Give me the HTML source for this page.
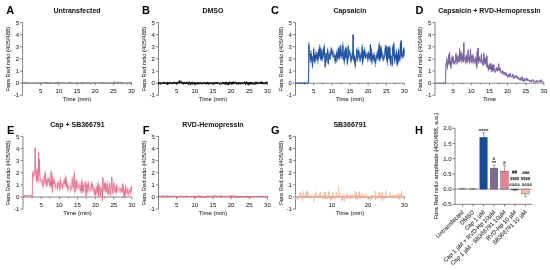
<!DOCTYPE html>
<html><head><meta charset="utf-8"><style>
html,body{margin:0;padding:0;background:#fff;}
svg{display:block;will-change:transform;}
text{font-family:"Liberation Sans",sans-serif;}
.let{font-size:11px;font-weight:bold;fill:#000;}
.tit{font-size:7px;font-weight:bold;fill:#111;text-anchor:middle;}
.yt{font-size:6.0px;fill:#3a3a3a;text-anchor:end;stroke:#3a3a3a;stroke-width:0.1px;}
.xt{font-size:6.0px;fill:#3a3a3a;text-anchor:middle;stroke:#3a3a3a;stroke-width:0.1px;}
.yl{font-size:5.9px;fill:#3a3a3a;text-anchor:middle;stroke:#3a3a3a;stroke-width:0.1px;}
.hl{font-size:5.9px;fill:#3a3a3a;text-anchor:end;stroke:#3a3a3a;stroke-width:0.1px;}
.ax{stroke:#666;stroke-width:0.8;fill:none;}
</style></head><body>
<svg width="550" height="270" viewBox="0 0 550 270">
<rect width="550" height="270" fill="#fff"/>
<text x="6.3" y="13.9" class="let">A</text>
<text x="77.05" y="13" class="tit">Untransfected</text>
<line x1="22.6" y1="22.6" x2="22.6" y2="95.32" class="ax"/>
<line x1="20" y1="95.32" x2="22.6" y2="95.32" class="ax"/>
<text x="19" y="97.47" class="yt">-1</text>
<line x1="20" y1="83.2" x2="22.6" y2="83.2" class="ax"/>
<text x="19" y="85.35" class="yt">0</text>
<line x1="20" y1="71.08" x2="22.6" y2="71.08" class="ax"/>
<text x="19" y="73.23" class="yt">1</text>
<line x1="20" y1="58.96" x2="22.6" y2="58.96" class="ax"/>
<text x="19" y="61.11" class="yt">2</text>
<line x1="20" y1="46.84" x2="22.6" y2="46.84" class="ax"/>
<text x="19" y="48.99" class="yt">3</text>
<line x1="20" y1="34.72" x2="22.6" y2="34.72" class="ax"/>
<text x="19" y="36.87" class="yt">4</text>
<line x1="20" y1="22.6" x2="22.6" y2="22.6" class="ax"/>
<text x="19" y="24.75" class="yt">5</text>
<line x1="22.6" y1="83.2" x2="131.5" y2="83.2" class="ax"/>
<line x1="40.75" y1="83.2" x2="40.75" y2="85.4" class="ax"/>
<text x="40.75" y="92.8" class="xt">5</text>
<line x1="58.9" y1="83.2" x2="58.9" y2="85.4" class="ax"/>
<text x="58.9" y="92.8" class="xt">10</text>
<line x1="77.05" y1="83.2" x2="77.05" y2="85.4" class="ax"/>
<text x="77.05" y="92.8" class="xt">15</text>
<line x1="95.2" y1="83.2" x2="95.2" y2="85.4" class="ax"/>
<text x="95.2" y="92.8" class="xt">20</text>
<line x1="113.35" y1="83.2" x2="113.35" y2="85.4" class="ax"/>
<text x="113.35" y="92.8" class="xt">25</text>
<line x1="131.5" y1="83.2" x2="131.5" y2="85.4" class="ax"/>
<text x="131.5" y="92.8" class="xt">30</text>
<text x="77.05" y="101.2" class="xt">Time (min)</text>
<text transform="translate(10,58.96) rotate(-90)" class="yl">Fura Red ratio (405/488)</text>
<polyline points="22.60,82.94 22.90,82.30 23.21,82.36 23.51,83.20 23.81,83.10 24.12,83.21 24.42,82.68 24.72,82.98 25.03,82.60 25.33,83.85 25.63,82.20 25.94,83.00 26.24,82.63 26.54,83.02 26.85,83.14 27.15,82.73 27.45,82.56 27.76,83.06 28.06,83.03 28.36,82.63 28.67,83.38 28.97,83.69 29.27,82.77 29.58,83.28 29.88,83.89 30.18,83.35 30.49,83.18 30.79,83.54 31.09,83.68 31.40,82.94 31.70,82.52 32.00,83.07 32.31,83.32 32.61,82.77 32.91,82.61 33.22,83.10 33.52,82.69 33.82,82.45 34.13,83.06 34.43,83.35 34.73,82.79 35.04,82.84 35.34,82.42 35.64,83.58 35.95,83.28 36.25,83.36 36.55,83.80 36.86,82.90 37.16,82.70 37.46,83.32 37.77,82.29 38.07,82.56 38.37,82.65 38.68,82.76 38.98,82.49 39.28,83.60 39.59,82.66 39.89,82.67 40.19,83.81 40.50,82.79 40.80,83.08 41.10,82.58 41.41,83.17 41.71,82.97 42.01,82.79 42.32,83.38 42.62,82.67 42.92,83.01 43.23,82.72 43.53,83.21 43.83,82.43 44.14,82.66 44.44,83.04 44.74,82.65 45.05,82.35 45.35,82.09 45.65,83.72 45.96,82.53 46.26,82.73 46.56,83.00 46.87,83.45 47.17,82.35 47.47,83.57 47.78,82.68 48.08,82.33 48.38,83.73 48.69,83.10 48.99,83.59 49.29,82.84 49.60,82.22 49.90,81.98 50.20,83.82 50.51,83.24 50.81,82.62 51.11,82.19 51.42,82.75 51.72,83.32 52.02,82.81 52.33,82.97 52.63,83.06 52.93,83.31 53.24,82.77 53.54,82.81 53.84,83.00 54.15,83.07 54.45,83.58 54.75,83.19 55.06,82.37 55.36,83.05 55.66,83.66 55.97,82.31 56.27,82.70 56.57,81.94 56.88,82.93 57.18,83.18 57.48,83.66 57.79,82.32 58.09,81.71 58.39,83.36 58.70,83.27 59.00,82.67 59.30,83.36 59.61,83.09 59.91,83.13 60.21,82.86 60.52,82.43 60.82,82.95 61.12,82.51 61.43,83.16 61.73,82.80 62.03,83.99 62.34,83.66 62.64,82.57 62.94,83.24 63.25,82.68 63.55,82.69 63.85,82.32 64.16,82.56 64.46,82.46 64.76,83.01 65.07,83.30 65.37,83.31 65.67,83.19 65.98,83.51 66.28,83.22 66.58,83.00 66.89,82.84 67.19,83.12 67.49,83.89 67.80,82.99 68.10,82.85 68.40,82.43 68.71,82.68 69.01,83.27 69.31,83.31 69.62,81.98 69.92,82.59 70.22,82.07 70.53,81.93 70.83,83.35 71.13,82.77 71.44,82.74 71.74,82.69 72.04,82.69 72.35,82.86 72.65,82.87 72.95,83.69 73.26,83.04 73.56,83.32 73.86,82.90 74.17,83.18 74.47,82.66 74.77,82.56 75.08,82.81 75.38,82.80 75.68,82.91 75.99,83.17 76.29,83.04 76.59,83.20 76.90,82.77 77.20,82.95 77.51,82.68 77.81,83.60 78.11,82.53 78.42,83.33 78.72,83.31 79.02,83.05 79.33,83.23 79.63,82.82 79.93,83.24 80.24,83.48 80.54,83.37 80.84,82.32 81.15,82.94 81.45,83.52 81.75,82.95 82.06,83.71 82.36,82.09 82.66,83.70 82.97,82.73 83.27,82.69 83.57,83.66 83.88,82.81 84.18,82.47 84.48,82.73 84.79,82.83 85.09,82.50 85.39,82.88 85.70,82.79 86.00,83.02 86.30,82.65 86.61,83.41 86.91,82.57 87.21,83.20 87.52,83.49 87.82,82.78 88.12,82.14 88.43,82.49 88.73,83.21 89.03,82.62 89.34,83.18 89.64,83.02 89.94,82.91 90.25,84.08 90.55,82.86 90.85,83.46 91.16,83.30 91.46,83.67 91.76,83.69 92.07,83.41 92.37,82.56 92.67,82.15 92.98,82.97 93.28,82.43 93.58,83.09 93.89,83.88 94.19,82.88 94.49,82.74 94.80,83.17 95.10,82.81 95.40,82.68 95.71,83.38 96.01,83.67 96.31,83.06 96.62,83.06 96.92,83.13 97.22,82.48 97.53,82.12 97.83,83.16 98.13,82.62 98.44,82.50 98.74,82.61 99.04,82.45 99.35,83.15 99.65,82.60 99.95,81.98 100.26,82.57 100.56,83.26 100.86,82.66 101.17,82.35 101.47,82.78 101.77,83.23 102.08,82.21 102.38,83.56 102.68,82.71 102.99,82.97 103.29,83.54 103.59,82.37 103.90,82.79 104.20,83.52 104.50,82.67 104.81,83.17 105.11,83.88 105.41,83.29 105.72,82.83 106.02,82.65 106.32,82.88 106.63,82.94 106.93,82.73 107.23,83.06 107.54,82.39 107.84,82.89 108.14,82.82 108.45,82.70 108.75,83.47 109.05,83.30 109.36,82.22 109.66,82.80 109.96,83.09 110.27,82.79 110.57,83.19 110.87,82.82 111.18,83.28 111.48,82.82 111.78,83.72 112.09,82.31 112.39,83.21 112.69,83.72 113.00,83.07 113.30,83.14 113.60,82.88 113.91,83.51 114.21,82.76 114.51,81.20 114.82,83.58 115.12,82.79 115.42,83.11 115.73,82.86 116.03,83.84 116.33,83.52 116.64,82.73 116.94,82.98 117.24,82.16 117.55,83.30 117.85,82.87 118.15,81.55 118.46,83.33 118.76,83.40 119.06,82.97 119.37,82.98 119.67,82.55 119.97,82.89 120.28,83.32 120.58,82.86 120.88,81.68 121.19,82.34 121.49,84.31 121.79,83.03 122.10,83.38 122.40,82.66 122.70,83.04 123.01,82.02 123.31,82.51 123.61,82.53 123.92,82.87 124.22,82.98 124.52,82.79 124.83,82.33 125.13,82.70 125.43,83.13 125.74,82.34 126.04,82.86 126.34,83.00 126.65,83.34 126.95,83.23 127.25,83.27 127.56,84.31 127.86,82.46 128.16,82.68 128.47,83.06 128.77,82.45 129.07,82.75 129.38,82.78 129.68,84.16 129.98,83.07 130.29,82.70 130.59,82.18 130.89,82.07 131.20,82.27 131.50,83.52" fill="none" stroke="#7a7a7a" stroke-width="0.8" stroke-opacity="1" stroke-linejoin="round"/>
<text x="141.9" y="13.9" class="let">B</text>
<text x="212.95" y="13" class="tit">DMSO</text>
<line x1="158.5" y1="22.6" x2="158.5" y2="95.32" class="ax"/>
<line x1="155.9" y1="95.32" x2="158.5" y2="95.32" class="ax"/>
<text x="154.9" y="97.47" class="yt">-1</text>
<line x1="155.9" y1="83.2" x2="158.5" y2="83.2" class="ax"/>
<text x="154.9" y="85.35" class="yt">0</text>
<line x1="155.9" y1="71.08" x2="158.5" y2="71.08" class="ax"/>
<text x="154.9" y="73.23" class="yt">1</text>
<line x1="155.9" y1="58.96" x2="158.5" y2="58.96" class="ax"/>
<text x="154.9" y="61.11" class="yt">2</text>
<line x1="155.9" y1="46.84" x2="158.5" y2="46.84" class="ax"/>
<text x="154.9" y="48.99" class="yt">3</text>
<line x1="155.9" y1="34.72" x2="158.5" y2="34.72" class="ax"/>
<text x="154.9" y="36.87" class="yt">4</text>
<line x1="155.9" y1="22.6" x2="158.5" y2="22.6" class="ax"/>
<text x="154.9" y="24.75" class="yt">5</text>
<line x1="158.5" y1="83.2" x2="267.4" y2="83.2" class="ax"/>
<line x1="176.65" y1="83.2" x2="176.65" y2="85.4" class="ax"/>
<text x="176.65" y="92.8" class="xt">5</text>
<line x1="194.8" y1="83.2" x2="194.8" y2="85.4" class="ax"/>
<text x="194.8" y="92.8" class="xt">10</text>
<line x1="212.95" y1="83.2" x2="212.95" y2="85.4" class="ax"/>
<text x="212.95" y="92.8" class="xt">15</text>
<line x1="231.1" y1="83.2" x2="231.1" y2="85.4" class="ax"/>
<text x="231.1" y="92.8" class="xt">20</text>
<line x1="249.25" y1="83.2" x2="249.25" y2="85.4" class="ax"/>
<text x="249.25" y="92.8" class="xt">25</text>
<line x1="267.4" y1="83.2" x2="267.4" y2="85.4" class="ax"/>
<text x="267.4" y="92.8" class="xt">30</text>
<text x="212.95" y="101.2" class="xt">Time (min)</text>
<text transform="translate(145.9,58.96) rotate(-90)" class="yl">Fura Red ratio (405/488)</text>
<polyline points="158.50,84.53 158.80,82.85 159.11,83.18 159.41,82.62 159.71,83.28 160.02,83.07 160.32,84.11 160.62,82.93 160.93,83.47 161.23,82.99 161.53,82.92 161.84,83.27 162.14,83.01 162.44,83.21 162.75,82.74 163.05,82.90 163.35,83.53 163.66,83.56 163.96,82.14 164.26,83.26 164.57,82.60 164.87,82.96 165.17,83.54 165.48,83.65 165.78,83.13 166.08,83.04 166.39,82.83 166.69,83.97 166.99,83.56 167.30,83.26 167.60,82.23 167.90,84.63 168.21,82.93 168.51,83.53 168.81,82.94 169.12,83.50 169.42,82.98 169.72,82.25 170.03,82.99 170.33,82.94 170.63,82.97 170.94,83.65 171.24,82.87 171.54,83.33 171.85,83.69 172.15,83.22 172.45,83.33 172.76,82.74 173.06,83.22 173.36,83.51 173.67,82.30 173.97,82.57 174.27,82.39 174.58,82.77 174.88,83.18 175.18,83.33 175.49,83.20 175.79,82.40 176.09,82.84 176.40,83.73 176.70,82.76 177.00,83.50 177.31,82.43 177.61,83.16 177.91,83.08 178.22,82.15 178.52,82.18 178.82,83.07 179.13,81.56 179.43,80.68 179.73,82.89 180.04,80.92 180.34,82.49 180.64,82.45 180.95,82.35 181.25,83.21 181.55,81.66 181.86,82.26 182.16,83.11 182.46,82.92 182.77,83.76 183.07,83.13 183.37,82.42 183.68,84.08 183.98,83.35 184.28,83.03 184.59,82.50 184.89,82.34 185.19,83.45 185.50,83.63 185.80,82.92 186.10,83.41 186.41,83.38 186.71,82.54 187.01,82.17 187.32,83.04 187.62,83.32 187.92,82.85 188.23,84.34 188.53,83.21 188.83,83.84 189.14,81.75 189.44,82.76 189.74,83.11 190.05,83.32 190.35,84.72 190.65,82.77 190.96,82.21 191.26,83.64 191.56,82.79 191.87,82.76 192.17,84.14 192.47,82.63 192.78,82.38 193.08,83.06 193.38,83.24 193.69,82.72 193.99,84.13 194.29,83.14 194.60,82.56 194.90,83.95 195.20,82.60 195.51,83.45 195.81,84.46 196.11,83.26 196.42,83.79 196.72,83.01 197.02,83.91 197.33,82.56 197.63,83.65 197.93,82.98 198.24,83.56 198.54,83.40 198.84,82.48 199.15,83.07 199.45,83.44 199.75,83.96 200.06,82.50 200.36,82.76 200.66,83.40 200.97,83.05 201.27,83.82 201.57,83.81 201.88,83.70 202.18,82.99 202.48,83.02 202.79,83.65 203.09,82.75 203.39,82.72 203.70,83.10 204.00,82.57 204.30,83.37 204.61,83.27 204.91,82.91 205.21,83.22 205.52,82.72 205.82,83.96 206.12,82.34 206.43,83.67 206.73,83.30 207.03,84.03 207.34,82.84 207.64,82.43 207.94,82.55 208.25,82.69 208.55,84.14 208.85,83.67 209.16,83.48 209.46,83.77 209.76,82.52 210.07,83.09 210.37,83.21 210.67,82.90 210.98,83.78 211.28,83.75 211.58,83.73 211.89,82.90 212.19,82.99 212.49,82.85 212.80,82.55 213.10,84.02 213.41,83.54 213.71,83.11 214.01,84.02 214.32,83.52 214.62,82.59 214.92,82.53 215.23,82.55 215.53,83.17 215.83,83.33 216.14,82.55 216.44,83.43 216.74,83.00 217.05,82.40 217.35,83.42 217.65,83.57 217.96,83.21 218.26,82.84 218.56,82.91 218.87,83.11 219.17,82.86 219.47,84.17 219.78,83.72 220.08,83.10 220.38,83.76 220.69,84.01 220.99,83.93 221.29,83.76 221.60,83.31 221.90,83.82 222.20,83.06 222.51,82.17 222.81,83.29 223.11,82.43 223.42,83.03 223.72,83.88 224.02,83.36 224.33,83.79 224.63,82.73 224.93,83.90 225.24,82.40 225.54,82.85 225.84,84.43 226.15,82.72 226.45,82.26 226.75,83.68 227.06,82.60 227.36,84.29 227.66,83.05 227.97,84.21 228.27,82.91 228.57,84.28 228.88,84.80 229.18,82.96 229.48,81.81 229.79,83.56 230.09,82.70 230.39,83.13 230.70,83.40 231.00,82.83 231.30,82.20 231.61,83.95 231.91,82.86 232.21,82.99 232.52,84.06 232.82,82.22 233.12,82.02 233.43,83.78 233.73,82.15 234.03,83.17 234.34,83.30 234.64,82.29 234.94,83.06 235.25,83.00 235.55,82.28 235.85,82.42 236.16,82.66 236.46,84.05 236.76,84.15 237.07,82.52 237.37,83.76 237.67,83.11 237.98,83.85 238.28,83.31 238.58,83.97 238.89,82.21 239.19,83.82 239.49,83.27 239.80,83.31 240.10,82.47 240.40,84.06 240.71,83.22 241.01,83.33 241.31,82.88 241.62,82.91 241.92,83.48 242.22,83.05 242.53,83.43 242.83,82.92 243.13,83.26 243.44,83.60 243.74,83.22 244.04,82.98 244.35,81.83 244.65,83.50 244.95,83.01 245.26,82.31 245.56,84.46 245.86,84.26 246.17,83.92 246.47,83.27 246.77,81.72 247.08,82.96 247.38,82.47 247.68,83.33 247.99,84.69 248.29,84.60 248.59,82.58 248.90,83.09 249.20,83.99 249.50,82.52 249.81,84.13 250.11,82.51 250.41,82.32 250.72,83.66 251.02,83.87 251.32,82.69 251.63,83.86 251.93,82.68 252.23,83.92 252.54,82.71 252.84,83.14 253.14,83.46 253.45,83.74 253.75,83.06 254.05,84.35 254.36,83.37 254.66,83.44 254.96,82.79 255.27,83.96 255.57,82.16 255.87,83.39 256.18,83.89 256.48,82.36 256.78,82.19 257.09,83.31 257.39,83.74 257.69,83.19 258.00,83.62 258.30,83.39 258.60,82.26 258.91,82.96 259.21,83.11 259.51,82.99 259.82,83.24 260.12,82.69 260.42,82.67 260.73,83.42 261.03,83.14 261.33,81.74 261.64,82.94 261.94,83.31 262.24,81.96 262.55,83.19 262.85,83.86 263.15,82.79 263.46,83.75 263.76,83.50 264.06,83.00 264.37,83.28 264.67,83.66 264.97,83.53 265.28,83.56 265.58,82.49 265.88,83.64 266.19,83.55 266.49,81.96 266.79,83.54 267.10,82.30 267.40,82.40" fill="none" stroke="#111" stroke-width="1.1" stroke-opacity="1" stroke-linejoin="round"/>
<text x="271" y="13.9" class="let">C</text>
<text x="349.95" y="13" class="tit">Capsaicin</text>
<line x1="295.5" y1="22.6" x2="295.5" y2="95.32" class="ax"/>
<line x1="292.9" y1="95.32" x2="295.5" y2="95.32" class="ax"/>
<text x="291.9" y="97.47" class="yt">-1</text>
<line x1="292.9" y1="83.2" x2="295.5" y2="83.2" class="ax"/>
<text x="291.9" y="85.35" class="yt">0</text>
<line x1="292.9" y1="71.08" x2="295.5" y2="71.08" class="ax"/>
<text x="291.9" y="73.23" class="yt">1</text>
<line x1="292.9" y1="58.96" x2="295.5" y2="58.96" class="ax"/>
<text x="291.9" y="61.11" class="yt">2</text>
<line x1="292.9" y1="46.84" x2="295.5" y2="46.84" class="ax"/>
<text x="291.9" y="48.99" class="yt">3</text>
<line x1="292.9" y1="34.72" x2="295.5" y2="34.72" class="ax"/>
<text x="291.9" y="36.87" class="yt">4</text>
<line x1="292.9" y1="22.6" x2="295.5" y2="22.6" class="ax"/>
<text x="291.9" y="24.75" class="yt">5</text>
<line x1="295.5" y1="83.2" x2="404.4" y2="83.2" class="ax"/>
<line x1="304.57" y1="83.2" x2="304.57" y2="84.5" class="ax"/>
<line x1="322.73" y1="83.2" x2="322.73" y2="84.5" class="ax"/>
<line x1="340.88" y1="83.2" x2="340.88" y2="84.5" class="ax"/>
<line x1="359.02" y1="83.2" x2="359.02" y2="84.5" class="ax"/>
<line x1="377.18" y1="83.2" x2="377.18" y2="84.5" class="ax"/>
<line x1="395.32" y1="83.2" x2="395.32" y2="84.5" class="ax"/>
<line x1="313.65" y1="83.2" x2="313.65" y2="85.4" class="ax"/>
<text x="313.65" y="92.8" class="xt">5</text>
<line x1="331.8" y1="83.2" x2="331.8" y2="85.4" class="ax"/>
<text x="331.8" y="92.8" class="xt">10</text>
<line x1="349.95" y1="83.2" x2="349.95" y2="85.4" class="ax"/>
<text x="349.95" y="92.8" class="xt">15</text>
<line x1="368.1" y1="83.2" x2="368.1" y2="85.4" class="ax"/>
<text x="368.1" y="92.8" class="xt">20</text>
<line x1="386.25" y1="83.2" x2="386.25" y2="85.4" class="ax"/>
<text x="386.25" y="92.8" class="xt">25</text>
<line x1="404.4" y1="83.2" x2="404.4" y2="85.4" class="ax"/>
<text x="404.4" y="92.8" class="xt">30</text>
<text x="349.95" y="101.2" class="xt">Time (min)</text>
<text transform="translate(282.9,58.96) rotate(-90)" class="yl">Fura Red ratio (405/488)</text>
<polyline points="295.50,82.85 295.80,83.63 296.11,83.25 296.41,82.98 296.71,83.34 297.02,82.95 297.32,83.10 297.62,83.02 297.93,83.22 298.23,83.11 298.53,83.04 298.84,83.65 299.14,83.48 299.44,83.51 299.75,82.69 300.05,83.11 300.35,83.09 300.66,83.15 300.96,83.36 301.26,83.43 301.57,82.94 301.87,83.31 302.17,82.72 302.48,83.14 302.78,83.17 303.08,83.27 303.39,83.22 303.69,83.19 303.99,82.73 304.30,82.49 304.60,83.55 304.90,83.12 305.21,82.98 305.51,83.47 305.81,83.39 306.12,83.34 306.42,83.93 306.72,83.00 307.03,83.21 307.33,83.23 307.63,83.17 307.94,83.12 308.24,82.49 308.54,83.14 308.85,42.15 309.15,53.92 309.45,53.17 309.76,52.16 310.06,55.07 310.36,58.13 310.67,50.20 310.97,57.46 311.27,50.78 311.58,56.03 311.88,56.41 312.18,60.04 312.49,64.21 312.79,56.51 313.09,54.76 313.40,57.47 313.70,47.56 314.00,54.82 314.31,59.30 314.61,54.54 314.91,59.53 315.22,52.49 315.52,51.47 315.82,57.06 316.13,57.51 316.43,51.69 316.73,56.13 317.04,55.97 317.34,51.38 317.64,58.59 317.95,58.04 318.25,57.30 318.55,49.05 318.86,52.94 319.16,51.33 319.46,44.39 319.77,54.90 320.07,45.96 320.37,47.92 320.68,57.50 320.98,53.95 321.28,56.53 321.59,56.35 321.89,48.24 322.19,56.37 322.50,54.05 322.80,54.87 323.10,54.09 323.41,46.98 323.71,52.28 324.01,48.36 324.32,43.72 324.62,52.31 324.92,57.14 325.23,65.55 325.53,58.85 325.83,52.56 326.14,52.64 326.44,54.53 326.74,57.85 327.05,53.39 327.35,52.74 327.65,47.60 327.96,51.95 328.26,62.60 328.56,54.47 328.87,53.97 329.17,51.57 329.47,51.97 329.78,52.91 330.08,56.83 330.38,51.75 330.69,52.98 330.99,49.10 331.29,46.69 331.60,50.83 331.90,50.99 332.20,51.17 332.51,52.94 332.81,48.83 333.11,53.88 333.42,53.30 333.72,53.93 334.02,52.78 334.33,54.24 334.63,53.55 334.93,57.69 335.24,57.08 335.54,54.41 335.84,59.07 336.15,55.89 336.45,51.81 336.75,54.04 337.06,48.78 337.36,55.81 337.66,52.43 337.97,54.31 338.27,55.70 338.57,46.55 338.88,51.10 339.18,55.99 339.48,55.36 339.79,45.42 340.09,53.23 340.39,47.73 340.70,44.26 341.00,52.36 341.30,53.21 341.61,54.76 341.91,49.40 342.21,49.49 342.52,53.75 342.82,41.55 343.12,49.69 343.43,57.07 343.73,56.15 344.03,52.78 344.34,60.30 344.64,57.36 344.94,48.91 345.25,55.36 345.55,46.67 345.85,54.56 346.16,55.54 346.46,47.35 346.76,52.26 347.07,57.07 347.37,61.60 347.67,53.40 347.98,51.60 348.28,44.81 348.58,55.82 348.89,48.70 349.19,51.08 349.49,51.38 349.80,49.85 350.10,50.27 350.41,53.69 350.71,56.75 351.01,59.66 351.32,56.36 351.62,53.82 351.92,53.72 352.23,56.08 352.53,50.95 352.83,52.72 353.14,34.72 353.44,56.19 353.74,57.67 354.05,54.86 354.35,58.80 354.65,54.12 354.96,61.19 355.26,64.33 355.56,58.47 355.87,56.09 356.17,56.22 356.47,55.63 356.78,47.90 357.08,55.17 357.38,57.29 357.69,55.47 357.99,48.92 358.29,47.06 358.60,53.08 358.90,49.45 359.20,55.88 359.51,53.98 359.81,55.98 360.11,58.69 360.42,52.50 360.72,53.79 361.02,56.39 361.33,55.38 361.63,53.86 361.93,47.81 362.24,44.16 362.54,61.35 362.84,49.96 363.15,51.99 363.45,56.24 363.75,49.43 364.06,54.37 364.36,51.53 364.66,47.01 364.97,50.86 365.27,51.75 365.57,56.13 365.88,52.36 366.18,54.37 366.48,53.85 366.79,53.40 367.09,52.46 367.39,54.61 367.70,57.27 368.00,53.23 368.30,50.67 368.61,51.70 368.91,55.52 369.21,57.61 369.52,52.36 369.82,54.59 370.12,54.19 370.43,44.42 370.73,51.91 371.03,58.79 371.34,47.12 371.64,53.99 371.94,59.99 372.25,53.19 372.55,56.49 372.85,52.95 373.16,53.29 373.46,52.73 373.76,56.28 374.07,54.97 374.37,57.76 374.67,52.56 374.98,57.13 375.28,61.69 375.58,61.04 375.89,57.66 376.19,54.77 376.49,54.70 376.80,51.95 377.10,54.98 377.40,51.78 377.71,52.30 378.01,48.73 378.31,55.32 378.62,47.38 378.92,53.31 379.22,42.27 379.53,57.37 379.83,49.70 380.13,55.30 380.44,56.27 380.74,45.12 381.04,54.34 381.35,46.35 381.65,52.67 381.95,50.65 382.26,54.79 382.56,54.67 382.86,54.04 383.17,58.47 383.47,56.03 383.77,54.91 384.08,56.72 384.38,50.75 384.68,52.47 384.99,52.41 385.29,45.28 385.59,50.33 385.90,45.16 386.20,53.94 386.50,52.96 386.81,57.80 387.11,46.18 387.41,61.25 387.72,53.16 388.02,55.52 388.32,55.20 388.63,45.74 388.93,54.74 389.23,53.46 389.54,56.97 389.84,45.97 390.14,54.49 390.45,54.25 390.75,61.97 391.05,54.32 391.36,55.54 391.66,55.58 391.96,56.07 392.27,62.44 392.57,61.40 392.87,44.62 393.18,53.71 393.48,52.37 393.78,41.86 394.09,50.56 394.39,49.39 394.69,59.49 395.00,53.13 395.30,53.25 395.60,55.27 395.91,52.74 396.21,57.22 396.51,48.70 396.82,55.35 397.12,61.69 397.42,52.19 397.73,60.92 398.03,56.70 398.33,59.11 398.64,48.46 398.94,55.94 399.24,54.63 399.55,53.59 399.85,57.51 400.15,51.04 400.46,40.36 400.76,51.01 401.06,51.90 401.37,40.78 401.67,55.06 401.97,50.93 402.28,54.00 402.58,55.70 402.88,53.29 403.19,51.34 403.49,46.74 403.79,54.09 404.10,48.24 404.40,50.64" fill="none" stroke="#5f84c6" stroke-width="0.55" stroke-opacity="1" stroke-linejoin="round"/>
<polyline points="295.50,82.85 295.80,83.63 296.11,83.25 296.41,82.98 296.71,83.34 297.02,82.95 297.32,83.10 297.62,83.02 297.93,83.22 298.23,83.11 298.53,83.04 298.84,83.65 299.14,83.48 299.44,83.51 299.75,82.69 300.05,83.11 300.35,83.09 300.66,83.15 300.96,83.36 301.26,83.43 301.57,82.94 301.87,83.31 302.17,82.72 302.48,83.14 302.78,83.17 303.08,83.27 303.39,83.22 303.69,83.19 303.99,82.73 304.30,82.49 304.60,83.55 304.90,83.12 305.21,82.98 305.51,83.47 305.81,83.39 306.12,83.34 306.42,83.93 306.72,83.00 307.03,83.21 307.33,83.23 307.63,83.17 307.94,83.12 308.24,82.49 308.54,83.14 308.85,45.51 309.15,56.58 309.45,57.17 309.76,57.19 310.06,59.28 310.36,63.00 310.67,57.00 310.97,62.98 311.27,56.25 311.58,61.13 311.88,60.50 312.18,64.60 312.49,68.87 312.79,61.92 313.09,58.39 313.40,61.44 313.70,51.79 314.00,61.51 314.31,62.29 314.61,58.45 314.91,64.34 315.22,55.94 315.52,55.52 315.82,60.80 316.13,60.83 316.43,56.70 316.73,59.20 317.04,60.03 317.34,55.42 317.64,62.29 317.95,64.15 318.25,62.10 318.55,53.04 318.86,57.51 319.16,55.41 319.46,49.31 319.77,58.47 320.07,50.37 320.37,52.83 320.68,60.77 320.98,58.71 321.28,60.41 321.59,61.26 321.89,52.36 322.19,61.09 322.50,59.35 322.80,59.26 323.10,57.54 323.41,51.71 323.71,57.98 324.01,55.03 324.32,48.34 324.62,57.59 324.92,60.21 325.23,67.80 325.53,61.83 325.83,57.37 326.14,56.03 326.44,58.92 326.74,62.70 327.05,56.45 327.35,56.37 327.65,52.28 327.96,57.06 328.26,65.21 328.56,59.61 328.87,58.31 329.17,55.04 329.47,56.04 329.78,57.89 330.08,60.50 330.38,55.89 330.69,57.15 330.99,53.99 331.29,50.18 331.60,55.17 331.90,54.48 332.20,56.43 332.51,57.01 332.81,53.51 333.11,58.29 333.42,58.34 333.72,58.43 334.02,57.18 334.33,59.75 334.63,60.90 334.93,63.67 335.24,59.93 335.54,57.94 335.84,63.75 336.15,60.28 336.45,56.12 336.75,59.47 337.06,55.15 337.36,61.90 337.66,56.07 337.97,58.42 338.27,59.60 338.57,50.20 338.88,56.63 339.18,59.79 339.48,60.16 339.79,51.30 340.09,58.45 340.39,53.05 340.70,48.82 341.00,56.37 341.30,59.12 341.61,58.79 341.91,53.90 342.21,53.01 342.52,59.28 342.82,46.67 343.12,53.91 343.43,61.36 343.73,61.13 344.03,57.81 344.34,64.85 344.64,60.10 344.94,53.05 345.25,59.16 345.55,50.05 345.85,58.61 346.16,59.47 346.46,51.68 346.76,55.93 347.07,60.35 347.37,65.52 347.67,57.53 347.98,55.93 348.28,47.10 348.58,60.51 348.89,52.28 349.19,55.05 349.49,55.43 349.80,54.09 350.10,54.16 350.41,57.63 350.71,62.24 351.01,63.33 351.32,60.81 351.62,58.30 351.92,57.65 352.23,60.18 352.53,55.80 352.83,57.49 353.14,34.72 353.44,60.61 353.74,62.13 354.05,59.95 354.35,62.36 354.65,58.23 354.96,64.75 355.26,68.88 355.56,62.07 355.87,60.57 356.17,61.77 356.47,60.05 356.78,52.41 357.08,59.18 357.38,61.80 357.69,61.13 357.99,53.83 358.29,51.03 358.60,57.19 358.90,53.94 359.20,59.41 359.51,59.22 359.81,59.72 360.11,62.49 360.42,57.49 360.72,57.37 361.02,60.23 361.33,59.52 361.63,58.60 361.93,52.66 362.24,49.81 362.54,65.42 362.84,54.31 363.15,57.53 363.45,61.92 363.75,54.43 364.06,58.54 364.36,55.32 364.66,51.40 364.97,56.13 365.27,57.37 365.57,59.27 365.88,56.73 366.18,57.28 366.48,57.98 366.79,56.72 367.09,56.50 367.39,58.87 367.70,62.42 368.00,58.21 368.30,54.93 368.61,57.43 368.91,61.10 369.21,60.16 369.52,55.63 369.82,58.62 370.12,58.50 370.43,44.42 370.73,55.68 371.03,62.87 371.34,51.51 371.64,59.56 371.94,64.48 372.25,59.35 372.55,59.96 372.85,56.61 373.16,58.99 373.46,57.93 373.76,60.89 374.07,60.28 374.37,62.65 374.67,58.41 374.98,60.74 375.28,66.26 375.58,66.85 375.89,61.62 376.19,59.78 376.49,59.05 376.80,57.59 377.10,60.12 377.40,55.25 377.71,56.84 378.01,52.86 378.31,61.02 378.62,51.79 378.92,57.27 379.22,45.88 379.53,61.83 379.83,53.75 380.13,59.88 380.44,60.95 380.74,48.77 381.04,58.00 381.35,50.83 381.65,57.33 381.95,54.11 382.26,59.68 382.56,60.09 382.86,60.02 383.17,61.59 383.47,59.51 383.77,58.93 384.08,60.46 384.38,55.63 384.68,56.96 384.99,55.59 385.29,50.57 385.59,54.71 385.90,48.87 386.20,58.18 386.50,56.92 386.81,61.60 387.11,49.94 387.41,65.92 387.72,57.09 388.02,59.06 388.32,58.45 388.63,49.70 388.93,58.34 389.23,58.93 389.54,61.44 389.84,48.88 390.14,58.95 390.45,58.70 390.75,66.04 391.05,58.20 391.36,59.63 391.66,60.71 391.96,60.76 392.27,66.89 392.57,65.82 392.87,48.73 393.18,58.16 393.48,56.08 393.78,45.87 394.09,53.06 394.39,53.31 394.69,63.84 395.00,57.46 395.30,58.39 395.60,59.40 395.91,58.55 396.21,61.06 396.51,54.36 396.82,60.85 397.12,66.67 397.42,56.91 397.73,65.70 398.03,60.81 398.33,63.13 398.64,52.12 398.94,61.65 399.24,59.67 399.55,57.80 399.85,61.76 400.15,54.45 400.46,43.62 400.76,56.44 401.06,57.00 401.37,40.78 401.67,58.12 401.97,56.41 402.28,59.27 402.58,59.42 402.88,58.32 403.19,55.56 403.49,51.56 403.79,57.59 404.10,53.74 404.40,54.21" fill="none" stroke="#5f84c6" stroke-width="0.55" stroke-opacity="1" stroke-linejoin="round"/>
<polyline points="295.50,82.85 295.80,83.63 296.11,83.25 296.41,82.98 296.71,83.34 297.02,82.95 297.32,83.10 297.62,83.02 297.93,83.22 298.23,83.11 298.53,83.04 298.84,83.65 299.14,83.48 299.44,83.51 299.75,82.69 300.05,83.11 300.35,83.09 300.66,83.15 300.96,83.36 301.26,83.43 301.57,82.94 301.87,83.31 302.17,82.72 302.48,83.14 302.78,83.17 303.08,83.27 303.39,83.22 303.69,83.19 303.99,82.73 304.30,82.49 304.60,83.55 304.90,83.12 305.21,82.98 305.51,83.47 305.81,83.39 306.12,83.34 306.42,83.93 306.72,83.00 307.03,83.21 307.33,83.23 307.63,83.17 307.94,83.12 308.24,82.49 308.54,83.14 308.85,44.42 309.15,55.13 309.45,55.06 309.76,55.13 310.06,56.66 310.36,59.71 310.67,53.74 310.97,60.43 311.27,53.97 311.58,58.24 311.88,58.80 312.18,62.73 312.49,66.79 312.79,58.68 313.09,56.08 313.40,59.24 313.70,48.85 314.00,58.01 314.31,61.27 314.61,56.65 314.91,61.92 315.22,54.72 315.52,54.01 315.82,58.89 316.13,58.78 316.43,54.99 316.73,57.90 317.04,57.89 317.34,53.10 317.64,60.46 317.95,60.26 318.25,59.97 318.55,50.61 318.86,55.32 319.16,53.12 319.46,47.33 319.77,56.35 320.07,48.23 320.37,50.57 320.68,58.87 320.98,56.22 321.28,58.82 321.59,58.06 321.89,50.31 322.19,59.18 322.50,56.40 322.80,56.81 323.10,56.16 323.41,49.45 323.71,55.26 324.01,51.04 324.32,46.36 324.62,55.47 324.92,58.39 325.23,66.86 325.53,59.65 325.83,55.27 326.14,53.43 326.44,56.70 326.74,60.50 327.05,54.73 327.35,54.53 327.65,49.63 327.96,54.59 328.26,63.86 328.56,56.85 328.87,56.59 329.17,53.84 329.47,54.26 329.78,55.86 330.08,59.15 330.38,53.92 330.69,54.96 330.99,51.68 331.29,48.70 331.60,53.41 331.90,53.23 332.20,54.04 332.51,54.64 332.81,51.06 333.11,56.28 333.42,55.74 333.72,56.81 334.02,55.21 334.33,56.97 334.63,56.93 334.93,60.39 335.24,58.62 335.54,55.73 335.84,61.66 336.15,57.84 336.45,54.17 336.75,56.12 337.06,51.76 337.36,58.72 337.66,53.93 337.97,56.66 338.27,57.70 338.57,47.94 338.88,53.67 339.18,58.09 339.48,57.81 339.79,49.11 340.09,56.22 340.39,50.58 340.70,46.20 341.00,53.83 341.30,56.15 341.61,56.76 341.91,51.61 342.21,51.44 342.52,56.00 342.82,45.19 343.12,51.69 343.43,59.08 343.73,58.46 344.03,55.13 344.34,61.76 344.64,58.46 344.94,50.74 345.25,57.41 345.55,48.37 345.85,56.13 346.16,57.14 346.46,49.28 346.76,54.37 347.07,58.25 347.37,63.44 347.67,55.79 347.98,53.70 348.28,46.15 348.58,57.77 348.89,50.86 349.19,53.72 349.49,52.56 349.80,52.43 350.10,52.15 350.41,55.97 350.71,59.33 351.01,61.30 351.32,58.03 351.62,55.92 351.92,56.33 352.23,57.91 352.53,52.25 352.83,54.46 353.14,34.72 353.44,59.05 353.74,59.52 354.05,56.82 354.35,60.85 354.65,56.20 354.96,62.77 355.26,66.22 355.56,60.75 355.87,58.31 356.17,58.39 356.47,57.17 356.78,49.72 357.08,56.90 357.38,60.08 357.69,58.50 357.99,51.28 358.29,50.18 358.60,55.06 358.90,51.44 359.20,57.25 359.51,56.28 359.81,57.87 360.11,60.90 360.42,54.95 360.72,55.80 361.02,57.87 361.33,57.51 361.63,55.97 361.93,49.99 362.24,46.72 362.54,63.38 362.84,51.96 363.15,55.19 363.45,59.05 363.75,51.54 364.06,55.97 364.36,53.43 364.66,49.41 364.97,53.53 365.27,55.37 365.57,58.15 365.88,54.62 366.18,56.32 366.48,56.07 366.79,55.34 367.09,54.00 367.39,57.40 367.70,59.52 368.00,56.17 368.30,52.54 368.61,54.03 368.91,58.09 369.21,58.66 369.52,53.75 369.82,57.22 370.12,56.43 370.43,44.42 370.73,53.65 371.03,60.34 371.34,49.02 371.64,57.10 371.94,61.83 372.25,56.59 372.55,58.53 372.85,54.70 373.16,56.41 373.46,55.49 373.76,59.30 374.07,58.33 374.37,60.59 374.67,55.49 374.98,58.29 375.28,63.39 375.58,63.50 375.89,59.98 376.19,57.40 376.49,56.62 376.80,54.82 377.10,58.39 377.40,54.33 377.71,55.01 378.01,51.24 378.31,58.08 378.62,49.72 378.92,55.21 379.22,44.60 379.53,59.65 379.83,50.99 380.13,57.66 380.44,58.50 380.74,47.46 381.04,56.22 381.35,48.85 381.65,55.25 381.95,52.43 382.26,57.20 382.56,57.35 382.86,56.69 383.17,60.13 383.47,57.63 383.77,57.13 384.08,58.30 384.38,54.45 384.68,54.18 384.99,54.13 385.29,47.87 385.59,52.24 385.90,45.95 386.20,56.04 386.50,54.56 386.81,59.67 387.11,47.39 387.41,62.89 387.72,55.24 388.02,57.65 388.32,56.70 388.63,47.47 388.93,56.39 389.23,55.71 389.54,59.04 389.84,47.38 390.14,57.03 390.45,55.98 390.75,64.36 391.05,55.92 391.36,57.87 391.66,57.66 391.96,58.25 392.27,64.89 392.57,63.81 392.87,46.87 393.18,55.95 393.48,53.76 393.78,43.96 394.09,51.39 394.39,50.20 394.69,61.45 395.00,55.14 395.30,56.29 395.60,57.82 395.91,55.55 396.21,59.19 396.51,51.12 396.82,58.19 397.12,64.16 397.42,54.55 397.73,63.13 398.03,58.31 398.33,60.73 398.64,49.76 398.94,58.34 399.24,56.63 399.55,55.34 399.85,59.88 400.15,52.86 400.46,43.15 400.76,54.31 401.06,54.33 401.37,40.78 401.67,56.33 401.97,54.30 402.28,56.44 402.58,57.17 402.88,56.10 403.19,52.51 403.49,48.64 403.79,56.12 404.10,50.20 404.40,52.12" fill="none" stroke="#1a4b98" stroke-width="0.8" stroke-opacity="1" stroke-linejoin="round"/>
<text x="415.6" y="13.9" class="let">D</text>
<text x="489.45" y="13" class="tit">Capsaicin + RVD-Hemopressin</text>
<line x1="435" y1="22.6" x2="435" y2="95.32" class="ax"/>
<line x1="432.4" y1="95.32" x2="435" y2="95.32" class="ax"/>
<text x="431.4" y="97.47" class="yt">-1</text>
<line x1="432.4" y1="83.2" x2="435" y2="83.2" class="ax"/>
<text x="431.4" y="85.35" class="yt">0</text>
<line x1="432.4" y1="71.08" x2="435" y2="71.08" class="ax"/>
<text x="431.4" y="73.23" class="yt">1</text>
<line x1="432.4" y1="58.96" x2="435" y2="58.96" class="ax"/>
<text x="431.4" y="61.11" class="yt">2</text>
<line x1="432.4" y1="46.84" x2="435" y2="46.84" class="ax"/>
<text x="431.4" y="48.99" class="yt">3</text>
<line x1="432.4" y1="34.72" x2="435" y2="34.72" class="ax"/>
<text x="431.4" y="36.87" class="yt">4</text>
<line x1="432.4" y1="22.6" x2="435" y2="22.6" class="ax"/>
<text x="431.4" y="24.75" class="yt">5</text>
<line x1="435" y1="83.2" x2="543.9" y2="83.2" class="ax"/>
<line x1="444.07" y1="83.2" x2="444.07" y2="84.5" class="ax"/>
<line x1="462.23" y1="83.2" x2="462.23" y2="84.5" class="ax"/>
<line x1="480.38" y1="83.2" x2="480.38" y2="84.5" class="ax"/>
<line x1="498.52" y1="83.2" x2="498.52" y2="84.5" class="ax"/>
<line x1="516.67" y1="83.2" x2="516.67" y2="84.5" class="ax"/>
<line x1="534.83" y1="83.2" x2="534.83" y2="84.5" class="ax"/>
<line x1="453.15" y1="83.2" x2="453.15" y2="85.4" class="ax"/>
<text x="453.15" y="92.8" class="xt">5</text>
<line x1="471.3" y1="83.2" x2="471.3" y2="85.4" class="ax"/>
<text x="471.3" y="92.8" class="xt">10</text>
<line x1="489.45" y1="83.2" x2="489.45" y2="85.4" class="ax"/>
<text x="489.45" y="92.8" class="xt">15</text>
<line x1="507.6" y1="83.2" x2="507.6" y2="85.4" class="ax"/>
<text x="507.6" y="92.8" class="xt">20</text>
<line x1="525.75" y1="83.2" x2="525.75" y2="85.4" class="ax"/>
<text x="525.75" y="92.8" class="xt">25</text>
<line x1="543.9" y1="83.2" x2="543.9" y2="85.4" class="ax"/>
<text x="543.9" y="92.8" class="xt">30</text>
<text x="489.45" y="101.2" class="xt">Time</text>
<text transform="translate(422.4,58.96) rotate(-90)" class="yl">Fura Red ratio (405/488)</text>
<polyline points="435.00,83.46 435.30,82.98 435.61,82.92 435.91,82.86 436.21,83.28 436.52,83.18 436.82,83.01 437.12,83.15 437.43,83.12 437.73,83.15 438.03,83.13 438.34,83.22 438.64,83.09 438.94,83.55 439.25,83.30 439.55,83.52 439.85,83.21 440.16,83.37 440.46,83.06 440.76,82.88 441.07,83.50 441.37,83.38 441.67,83.11 441.98,82.84 442.28,83.00 442.58,83.08 442.89,83.21 443.19,83.30 443.49,83.10 443.80,83.07 444.10,83.15 444.40,83.34 444.71,83.59 445.01,83.40 445.31,83.29 445.62,78.29 445.92,63.54 446.22,62.17 446.53,63.13 446.83,57.40 447.13,63.43 447.44,67.15 447.74,62.12 448.04,60.74 448.35,62.53 448.65,53.87 448.95,59.74 449.26,62.02 449.56,52.29 449.86,59.98 450.17,63.07 450.47,59.64 450.77,66.58 451.08,61.28 451.38,62.65 451.68,58.98 451.99,55.20 452.29,59.93 452.59,57.70 452.90,60.83 453.20,61.09 453.50,55.95 453.81,61.45 454.11,62.33 454.41,60.11 454.72,61.83 455.02,61.78 455.32,61.18 455.63,59.62 455.93,52.27 456.23,58.64 456.54,57.58 456.84,55.33 457.14,62.09 457.45,58.84 457.75,57.78 458.05,54.27 458.36,59.54 458.66,58.14 458.96,58.92 459.27,59.72 459.57,48.66 459.87,59.13 460.18,57.30 460.48,51.28 460.78,51.76 461.09,55.12 461.39,59.80 461.69,51.31 462.00,57.97 462.30,53.64 462.60,57.74 462.91,58.97 463.21,54.93 463.51,59.73 463.82,42.60 464.12,58.56 464.42,58.25 464.73,56.62 465.03,55.83 465.33,56.94 465.64,59.37 465.94,61.05 466.24,53.85 466.55,57.06 466.85,59.43 467.15,57.74 467.46,55.65 467.76,59.83 468.06,48.52 468.37,57.39 468.67,57.76 468.97,54.81 469.28,56.45 469.58,61.18 469.88,55.59 470.19,56.77 470.49,49.26 470.79,55.50 471.10,59.26 471.40,56.17 471.70,54.48 472.01,60.76 472.31,55.34 472.61,56.38 472.92,53.39 473.22,55.54 473.52,59.71 473.83,57.87 474.13,60.59 474.43,59.31 474.74,57.97 475.04,57.20 475.34,55.78 475.65,56.40 475.95,61.87 476.25,57.65 476.56,58.58 476.86,65.79 477.16,49.94 477.47,59.99 477.77,58.05 478.07,48.05 478.38,52.13 478.68,60.49 478.98,56.45 479.29,58.28 479.59,55.98 479.89,59.42 480.20,59.95 480.50,59.07 480.80,60.19 481.11,55.92 481.41,53.13 481.71,60.38 482.02,58.59 482.32,60.96 482.62,61.91 482.93,60.80 483.23,63.49 483.53,58.69 483.84,52.15 484.14,60.41 484.44,56.85 484.75,62.11 485.05,62.17 485.35,57.75 485.66,61.38 485.96,58.47 486.26,61.50 486.57,65.29 486.87,54.62 487.17,64.26 487.48,65.94 487.78,63.47 488.08,64.77 488.39,69.03 488.69,66.47 488.99,65.07 489.30,67.78 489.60,63.45 489.91,64.40 490.21,67.93 490.51,66.52 490.82,62.49 491.12,66.55 491.42,70.41 491.73,64.95 492.03,68.76 492.33,63.85 492.64,69.94 492.94,67.29 493.24,69.37 493.55,68.80 493.85,63.87 494.15,67.61 494.46,70.44 494.76,69.82 495.06,71.30 495.37,70.65 495.67,70.11 495.97,69.05 496.28,67.53 496.58,69.36 496.88,66.60 497.19,69.27 497.49,70.18 497.79,70.09 498.10,68.38 498.40,69.62 498.70,63.20 499.01,69.34 499.31,67.58 499.61,68.96 499.92,68.92 500.22,67.48 500.52,71.89 500.83,70.89 501.13,70.57 501.43,70.69 501.74,70.89 502.04,71.70 502.34,72.99 502.65,69.94 502.95,72.09 503.25,72.14 503.56,73.20 503.86,72.97 504.16,71.53 504.47,73.38 504.77,74.08 505.07,74.40 505.38,72.66 505.68,73.09 505.98,71.95 506.29,72.96 506.59,74.69 506.89,73.88 507.20,76.35 507.50,75.27 507.80,74.56 508.11,74.34 508.41,75.28 508.71,73.73 509.02,76.26 509.32,75.31 509.62,75.19 509.93,76.42 510.23,72.65 510.53,75.05 510.84,75.75 511.14,75.69 511.44,76.39 511.75,75.62 512.05,75.19 512.35,75.92 512.66,73.55 512.96,75.37 513.26,77.42 513.57,77.53 513.87,75.17 514.17,78.00 514.48,77.38 514.78,77.09 515.08,77.23 515.39,76.77 515.69,76.65 515.99,74.85 516.30,76.41 516.60,77.34 516.90,77.05 517.21,75.83 517.51,77.35 517.81,78.60 518.12,77.75 518.42,77.32 518.72,78.44 519.03,77.58 519.33,78.76 519.63,78.70 519.94,78.58 520.24,79.99 520.54,77.63 520.85,77.84 521.15,78.81 521.45,79.48 521.76,79.64 522.06,76.29 522.36,79.32 522.67,79.54 522.97,80.53 523.27,79.31 523.58,80.94 523.88,79.58 524.18,78.00 524.49,79.89 524.79,80.52 525.09,79.67 525.40,79.77 525.70,79.29 526.00,78.35 526.31,77.65 526.61,79.43 526.91,80.45 527.22,80.21 527.52,78.32 527.82,79.48 528.13,79.42 528.43,79.84 528.73,79.78 529.04,80.36 529.34,79.73 529.64,80.54 529.95,81.23 530.25,80.22 530.55,80.07 530.86,80.89 531.16,80.50 531.46,81.42 531.77,80.28 532.07,80.17 532.37,79.46 532.68,80.04 532.98,79.35 533.28,80.80 533.59,81.81 533.89,80.51 534.19,80.63 534.50,81.20 534.80,81.04 535.10,80.99 535.41,81.43 535.71,80.92 536.01,82.19 536.32,80.37 536.62,80.91 536.92,81.26 537.23,81.66 537.53,80.04 537.83,81.37 538.14,80.90 538.44,81.08 538.74,81.37 539.05,81.40 539.35,81.33 539.65,80.71 539.96,81.24 540.26,79.87 540.56,81.59 540.87,79.81 541.17,79.47 541.47,81.17 541.78,81.69 542.08,81.12 542.38,81.60 542.69,81.23 542.99,81.43 543.29,81.51 543.60,82.02 543.90,81.98" fill="none" stroke="#ab97c7" stroke-width="0.55" stroke-opacity="1" stroke-linejoin="round"/>
<polyline points="435.00,83.46 435.30,82.98 435.61,82.92 435.91,82.86 436.21,83.28 436.52,83.18 436.82,83.01 437.12,83.15 437.43,83.12 437.73,83.15 438.03,83.13 438.34,83.22 438.64,83.09 438.94,83.55 439.25,83.30 439.55,83.52 439.85,83.21 440.16,83.37 440.46,83.06 440.76,82.88 441.07,83.50 441.37,83.38 441.67,83.11 441.98,82.84 442.28,83.00 442.58,83.08 442.89,83.21 443.19,83.30 443.49,83.10 443.80,83.07 444.10,83.15 444.40,83.34 444.71,83.59 445.01,83.40 445.31,83.29 445.62,78.29 445.92,65.72 446.22,64.39 446.53,65.37 446.83,59.68 447.13,65.74 447.44,69.49 447.74,64.48 448.04,63.14 448.35,64.96 448.65,56.32 448.95,62.23 449.26,64.54 449.56,52.29 449.86,62.56 450.17,65.68 450.47,62.28 450.77,69.25 451.08,63.98 451.38,65.38 451.68,61.75 451.99,57.99 452.29,62.75 452.59,60.55 452.90,63.72 453.20,64.00 453.50,58.87 453.81,64.38 454.11,65.28 454.41,63.07 454.72,64.81 455.02,64.76 455.32,64.17 455.63,62.63 455.93,55.29 456.23,61.67 456.54,60.62 456.84,58.38 457.14,65.16 457.45,61.92 457.75,60.88 458.05,57.37 458.36,62.66 458.66,61.27 458.96,62.07 459.27,62.87 459.57,48.66 459.87,62.31 460.18,60.49 460.48,54.48 460.78,54.97 461.09,58.35 461.39,63.04 461.69,54.56 462.00,61.23 462.30,56.92 462.60,61.03 462.91,62.27 463.21,58.24 463.51,63.05 463.82,42.60 464.12,61.91 464.42,61.61 464.73,59.99 465.03,59.22 465.33,60.34 465.64,62.78 465.94,64.47 466.24,57.29 466.55,60.51 466.85,62.89 467.15,61.21 467.46,59.13 467.76,63.33 468.06,52.02 468.37,60.90 468.67,61.29 468.97,58.36 469.28,60.01 469.58,64.75 469.88,59.17 470.19,60.37 470.49,49.26 470.79,59.11 471.10,62.89 471.40,59.81 471.70,58.10 472.01,64.37 472.31,58.94 472.61,59.97 472.92,56.97 473.22,59.11 473.52,63.27 473.83,61.42 474.13,64.13 474.43,62.85 474.74,61.49 475.04,60.71 475.34,59.28 475.65,59.89 475.95,65.35 476.25,61.12 476.56,62.04 476.86,69.25 477.16,53.38 477.47,63.42 477.77,61.47 478.07,48.05 478.38,55.53 478.68,63.88 478.98,59.83 479.29,61.65 479.59,59.34 479.89,62.77 480.20,63.29 480.50,62.40 480.80,63.51 481.11,59.23 481.41,56.43 481.71,63.67 482.02,61.87 482.32,64.21 482.62,65.12 482.93,63.97 483.23,66.61 483.53,61.76 483.84,55.17 484.14,63.39 484.44,59.78 484.75,64.99 485.05,65.01 485.35,57.75 485.66,64.13 485.96,61.17 486.26,64.16 486.57,67.91 486.87,57.19 487.17,66.78 487.48,68.41 487.78,65.90 488.08,67.16 488.39,71.37 488.69,68.77 488.99,67.32 489.30,69.98 489.60,65.62 489.91,66.55 490.21,70.06 490.51,68.63 490.82,64.59 491.12,68.62 491.42,72.46 491.73,66.98 492.03,70.77 492.33,65.84 492.64,71.90 492.94,69.24 493.24,71.30 493.55,70.71 493.85,65.76 494.15,69.47 494.46,72.29 494.76,71.65 495.06,73.11 495.37,72.44 495.67,71.88 495.97,70.79 496.28,69.25 496.58,71.06 496.88,68.28 497.19,70.93 497.49,71.83 497.79,71.72 498.10,69.99 498.40,71.20 498.70,64.76 499.01,70.89 499.31,69.10 499.61,70.46 499.92,70.40 500.22,68.94 500.52,73.34 500.83,72.32 501.13,72.00 501.43,72.10 501.74,72.30 502.04,73.10 502.34,74.38 502.65,71.32 502.95,73.45 503.25,73.49 503.56,74.54 503.86,74.30 504.16,72.85 504.47,74.69 504.77,75.38 505.07,75.69 505.38,73.94 505.68,74.35 505.98,73.20 506.29,74.21 506.59,75.93 506.89,75.10 507.20,77.57 507.50,76.47 507.80,75.76 508.11,75.52 508.41,76.45 508.71,74.89 509.02,77.41 509.32,76.44 509.62,76.32 509.93,77.54 510.23,73.75 510.53,76.14 510.84,76.84 511.14,76.76 511.44,77.45 511.75,76.68 512.05,76.23 512.35,76.95 512.66,74.57 512.96,76.38 513.26,78.42 513.57,78.53 513.87,76.15 514.17,78.97 514.48,78.34 514.78,78.03 515.08,78.18 515.39,77.71 515.69,77.59 515.99,75.78 516.30,77.34 516.60,78.26 516.90,77.97 517.21,76.75 517.51,78.26 517.81,79.51 518.12,78.65 518.42,78.22 518.72,79.34 519.03,78.47 519.33,79.65 519.63,79.58 519.94,79.46 520.24,80.87 520.54,78.50 520.85,78.71 521.15,79.67 521.45,80.34 521.76,80.50 522.06,77.14 522.36,80.17 522.67,80.39 522.97,81.38 523.27,80.15 523.58,81.77 523.88,80.41 524.18,78.83 524.49,80.71 524.79,81.34 525.09,80.48 525.40,80.58 525.70,80.10 526.00,79.16 526.31,78.45 526.61,80.22 526.91,81.24 527.22,81.00 527.52,79.11 527.82,80.27 528.13,80.20 528.43,80.61 528.73,80.55 529.04,81.13 529.34,80.50 529.64,81.30 529.95,81.99 530.25,80.97 530.55,80.82 530.86,81.64 531.16,81.24 531.46,82.15 531.77,81.01 532.07,80.90 532.37,80.18 532.68,80.76 532.98,80.07 533.28,81.51 533.59,82.52 533.89,81.21 534.19,81.34 534.50,81.90 534.80,81.74 535.10,81.69 535.41,82.12 535.71,81.61 536.01,82.87 536.32,81.05 536.62,81.58 536.92,81.92 537.23,82.33 537.53,80.70 537.83,82.03 538.14,81.56 538.44,81.73 538.74,82.02 539.05,82.05 539.35,81.97 539.65,81.34 539.96,81.87 540.26,80.49 540.56,82.21 540.87,80.43 541.17,80.08 541.47,81.79 541.78,82.30 542.08,81.72 542.38,82.21 542.69,81.83 542.99,82.02 543.29,82.10 543.60,82.61 543.90,82.56" fill="none" stroke="#ab97c7" stroke-width="0.55" stroke-opacity="1" stroke-linejoin="round"/>
<polyline points="435.00,83.46 435.30,82.98 435.61,82.92 435.91,82.86 436.21,83.28 436.52,83.18 436.82,83.01 437.12,83.15 437.43,83.12 437.73,83.15 438.03,83.13 438.34,83.22 438.64,83.09 438.94,83.55 439.25,83.30 439.55,83.52 439.85,83.21 440.16,83.37 440.46,83.06 440.76,82.88 441.07,83.50 441.37,83.38 441.67,83.11 441.98,82.84 442.28,83.00 442.58,83.08 442.89,83.21 443.19,83.30 443.49,83.10 443.80,83.07 444.10,83.15 444.40,83.34 444.71,83.59 445.01,83.40 445.31,83.29 445.62,78.29 445.92,64.63 446.22,63.28 446.53,64.25 446.83,58.54 447.13,64.58 447.44,68.32 447.74,63.30 448.04,61.94 448.35,63.75 448.65,55.10 448.95,60.98 449.26,63.28 449.56,52.29 449.86,61.27 450.17,64.38 450.47,60.96 450.77,67.92 451.08,62.63 451.38,64.02 451.68,60.37 451.99,56.60 452.29,61.34 452.59,59.12 452.90,62.27 453.20,62.55 453.50,57.41 453.81,62.91 454.11,63.81 454.41,61.59 454.72,63.32 455.02,63.27 455.32,62.67 455.63,61.13 455.93,53.78 456.23,60.16 456.54,59.10 456.84,56.86 457.14,63.62 457.45,60.38 457.75,59.33 458.05,55.82 458.36,61.10 458.66,59.71 458.96,60.50 459.27,61.29 459.57,48.66 459.87,60.72 460.18,58.90 460.48,52.88 460.78,53.37 461.09,56.74 461.39,61.42 461.69,52.94 462.00,59.60 462.30,55.28 462.60,59.39 462.91,60.62 463.21,56.59 463.51,61.39 463.82,42.60 464.12,60.24 464.42,59.93 464.73,58.31 465.03,57.52 465.33,58.64 465.64,61.07 465.94,62.76 466.24,55.57 466.55,58.79 466.85,61.16 467.15,59.47 467.46,57.39 467.76,61.58 468.06,50.27 468.37,59.15 468.67,59.52 468.97,56.59 469.28,58.23 469.58,62.97 469.88,57.38 470.19,58.57 470.49,49.26 470.79,57.31 471.10,61.08 471.40,57.99 471.70,56.29 472.01,62.57 472.31,57.14 472.61,58.18 472.92,55.18 473.22,57.33 473.52,61.49 473.83,59.65 474.13,62.36 474.43,61.08 474.74,59.73 475.04,58.96 475.34,57.53 475.65,58.14 475.95,63.61 476.25,59.39 476.56,60.31 476.86,67.52 477.16,51.66 477.47,61.70 477.77,59.76 478.07,48.05 478.38,53.83 478.68,62.19 478.98,58.14 479.29,59.97 479.59,57.66 479.89,61.09 480.20,61.62 480.50,60.73 480.80,61.85 481.11,57.58 481.41,54.78 481.71,62.03 482.02,60.23 482.32,62.59 482.62,63.52 482.93,62.39 483.23,65.05 483.53,60.23 483.84,53.66 484.14,61.90 484.44,58.32 484.75,63.55 485.05,63.59 485.35,57.75 485.66,62.76 485.96,59.82 486.26,62.83 486.57,66.60 486.87,55.91 487.17,65.52 487.48,67.18 487.78,64.69 488.08,65.97 488.39,70.20 488.69,67.62 488.99,66.20 489.30,68.88 489.60,64.53 489.91,65.48 490.21,69.00 490.51,67.57 490.82,63.54 491.12,67.58 491.42,71.44 491.73,65.97 492.03,69.77 492.33,64.85 492.64,70.92 492.94,68.27 493.24,70.33 493.55,69.75 493.85,64.82 494.15,68.54 494.46,71.37 494.76,70.74 495.06,72.21 495.37,71.54 495.67,70.99 495.97,69.92 496.28,68.39 496.58,70.21 496.88,67.44 497.19,70.10 497.49,71.00 497.79,70.91 498.10,69.19 498.40,70.41 498.70,63.98 499.01,70.12 499.31,68.34 499.61,69.71 499.92,69.66 500.22,68.21 500.52,72.61 500.83,71.61 501.13,71.28 501.43,71.39 501.74,71.59 502.04,72.40 502.34,73.69 502.65,70.63 502.95,72.77 503.25,72.81 503.56,73.87 503.86,73.64 504.16,72.19 504.47,74.04 504.77,74.73 505.07,75.04 505.38,73.30 505.68,73.72 505.98,72.57 506.29,73.58 506.59,75.31 506.89,74.49 507.20,76.96 507.50,75.87 507.80,75.16 508.11,74.93 508.41,75.86 508.71,74.31 509.02,76.83 509.32,75.88 509.62,75.75 509.93,76.98 510.23,73.20 510.53,75.60 510.84,76.30 511.14,76.22 511.44,76.92 511.75,76.15 512.05,75.71 512.35,76.44 512.66,74.06 512.96,75.87 513.26,77.92 513.57,78.03 513.87,75.66 514.17,78.49 514.48,77.86 514.78,77.56 515.08,77.70 515.39,77.24 515.69,77.12 515.99,75.32 516.30,76.87 516.60,77.80 516.90,77.51 517.21,76.29 517.51,77.80 517.81,79.05 518.12,78.20 518.42,77.77 518.72,78.89 519.03,78.03 519.33,79.20 519.63,79.14 519.94,79.02 520.24,80.43 520.54,78.07 520.85,78.27 521.15,79.24 521.45,79.91 521.76,80.07 522.06,76.71 522.36,79.74 522.67,79.96 522.97,80.95 523.27,79.73 523.58,81.36 523.88,79.99 524.18,78.41 524.49,80.30 524.79,80.93 525.09,80.08 525.40,80.18 525.70,79.69 526.00,78.75 526.31,78.05 526.61,79.82 526.91,80.85 527.22,80.61 527.52,78.71 527.82,79.87 528.13,79.81 528.43,80.22 528.73,80.17 529.04,80.75 529.34,80.12 529.64,80.92 529.95,81.61 530.25,80.59 530.55,80.44 530.86,81.27 531.16,80.87 531.46,81.78 531.77,80.64 532.07,80.54 532.37,79.82 532.68,80.40 532.98,79.71 533.28,81.15 533.59,82.17 533.89,80.86 534.19,80.99 534.50,81.55 534.80,81.39 535.10,81.34 535.41,81.77 535.71,81.27 536.01,82.53 536.32,80.71 536.62,81.24 536.92,81.59 537.23,82.00 537.53,80.37 537.83,81.70 538.14,81.23 538.44,81.41 538.74,81.69 539.05,81.73 539.35,81.65 539.65,81.03 539.96,81.56 540.26,80.18 540.56,81.90 540.87,80.12 541.17,79.78 541.47,81.48 541.78,81.99 542.08,81.42 542.38,81.91 542.69,81.53 542.99,81.73 543.29,81.80 543.60,82.32 543.90,82.27" fill="none" stroke="#735c96" stroke-width="0.75" stroke-opacity="1" stroke-linejoin="round"/>
<text x="7" y="133.5" class="let">E</text>
<text x="77.45" y="126.8" class="tit">Cap + SB366791</text>
<line x1="23" y1="136.4" x2="23" y2="209.12" class="ax"/>
<line x1="20.4" y1="209.12" x2="23" y2="209.12" class="ax"/>
<text x="19.4" y="211.27" class="yt">-1</text>
<line x1="20.4" y1="197" x2="23" y2="197" class="ax"/>
<text x="19.4" y="199.15" class="yt">0</text>
<line x1="20.4" y1="184.88" x2="23" y2="184.88" class="ax"/>
<text x="19.4" y="187.03" class="yt">1</text>
<line x1="20.4" y1="172.76" x2="23" y2="172.76" class="ax"/>
<text x="19.4" y="174.91" class="yt">2</text>
<line x1="20.4" y1="160.64" x2="23" y2="160.64" class="ax"/>
<text x="19.4" y="162.79" class="yt">3</text>
<line x1="20.4" y1="148.52" x2="23" y2="148.52" class="ax"/>
<text x="19.4" y="150.67" class="yt">4</text>
<line x1="20.4" y1="136.4" x2="23" y2="136.4" class="ax"/>
<text x="19.4" y="138.55" class="yt">5</text>
<line x1="23" y1="197" x2="131.9" y2="197" class="ax"/>
<line x1="32.08" y1="197" x2="32.08" y2="198.3" class="ax"/>
<line x1="50.23" y1="197" x2="50.23" y2="198.3" class="ax"/>
<line x1="68.38" y1="197" x2="68.38" y2="198.3" class="ax"/>
<line x1="86.53" y1="197" x2="86.53" y2="198.3" class="ax"/>
<line x1="104.68" y1="197" x2="104.68" y2="198.3" class="ax"/>
<line x1="122.83" y1="197" x2="122.83" y2="198.3" class="ax"/>
<line x1="41.15" y1="197" x2="41.15" y2="199.2" class="ax"/>
<text x="41.15" y="206.6" class="xt">5</text>
<line x1="59.3" y1="197" x2="59.3" y2="199.2" class="ax"/>
<text x="59.3" y="206.6" class="xt">10</text>
<line x1="77.45" y1="197" x2="77.45" y2="199.2" class="ax"/>
<text x="77.45" y="206.6" class="xt">15</text>
<line x1="95.6" y1="197" x2="95.6" y2="199.2" class="ax"/>
<text x="95.6" y="206.6" class="xt">20</text>
<line x1="113.75" y1="197" x2="113.75" y2="199.2" class="ax"/>
<text x="113.75" y="206.6" class="xt">25</text>
<line x1="131.9" y1="197" x2="131.9" y2="199.2" class="ax"/>
<text x="131.9" y="206.6" class="xt">30</text>
<text x="77.45" y="215" class="xt">Time (min)</text>
<text transform="translate(10.4,172.76) rotate(-90)" class="yl">Fura Red ratio (405/488)</text>
<polyline points="23.00,196.49 23.42,196.44 23.84,196.42 24.26,196.54 24.68,195.38 25.10,196.17 25.52,195.38 25.94,196.12 26.36,195.96 26.78,196.05 27.20,196.05 27.63,196.26 28.05,195.69 28.47,195.79 28.89,196.14 29.31,194.99 29.73,195.45 30.15,195.74 30.57,195.75 30.99,196.18 31.41,196.11 31.83,195.49 32.25,196.56 32.67,170.59 33.09,174.08 33.51,174.87 33.93,170.59 34.35,170.25 34.77,171.66 35.19,147.67 35.61,166.79 36.03,170.55 36.45,178.85 36.88,167.79 37.30,168.26 37.72,178.81 38.14,178.54 38.56,152.16 38.98,170.52 39.40,159.43 39.82,173.91 40.24,177.78 40.66,179.87 41.08,179.92 41.50,179.67 41.92,178.55 42.34,177.29 42.76,183.16 43.18,184.24 43.60,179.46 44.02,179.11 44.44,174.23 44.86,179.03 45.28,170.29 45.71,179.78 46.13,182.50 46.55,178.78 46.97,183.23 47.39,179.29 47.81,176.08 48.23,176.06 48.65,179.25 49.07,180.33 49.49,177.28 49.91,184.03 50.33,180.03 50.75,182.85 51.17,169.11 51.59,183.25 52.01,173.05 52.43,189.52 52.85,179.69 53.27,178.21 53.69,181.75 54.11,179.15 54.53,177.45 54.96,181.29 55.38,185.10 55.80,182.72 56.22,183.70 56.64,183.59 57.06,184.43 57.48,186.57 57.90,180.15 58.32,181.32 58.74,182.48 59.16,180.96 59.58,186.99 60.00,185.32 60.42,177.17 60.84,181.13 61.26,182.14 61.68,183.66 62.10,185.71 62.52,182.85 62.94,184.48 63.36,181.23 63.78,179.20 64.21,178.07 64.63,181.39 65.05,177.78 65.47,181.99 65.89,174.44 66.31,183.30 66.73,178.94 67.15,185.43 67.57,183.04 67.99,187.26 68.41,185.42 68.83,183.96 69.25,183.43 69.67,183.35 70.09,182.82 70.51,188.17 70.93,186.18 71.35,185.51 71.77,185.84 72.19,176.14 72.61,179.38 73.04,184.95 73.46,184.66 73.88,179.23 74.30,171.06 74.72,188.34 75.14,189.72 75.56,185.74 75.98,178.68 76.40,185.11 76.82,178.89 77.24,186.23 77.66,185.41 78.08,185.69 78.50,183.16 78.92,183.82 79.34,182.37 79.76,183.45 80.18,187.91 80.60,188.80 81.02,182.80 81.44,189.13 81.86,178.22 82.29,188.70 82.71,186.17 83.13,182.76 83.55,189.35 83.97,182.31 84.39,182.06 84.81,182.94 85.23,180.17 85.65,180.15 86.07,194.15 86.49,182.78 86.91,190.26 87.33,185.41 87.75,182.39 88.17,184.74 88.59,180.62 89.01,188.99 89.43,187.63 89.85,187.64 90.27,188.04 90.69,185.96 91.12,187.07 91.54,181.25 91.96,184.30 92.38,181.59 92.80,187.63 93.22,188.25 93.64,188.31 94.06,185.45 94.48,188.31 94.90,193.30 95.32,188.36 95.74,192.61 96.16,190.37 96.58,189.93 97.00,184.60 97.42,190.28 97.84,180.77 98.26,183.28 98.68,194.03 99.10,186.43 99.52,184.10 99.94,185.65 100.37,193.77 100.79,186.19 101.21,188.35 101.63,189.85 102.05,188.64 102.47,197.65 102.89,177.61 103.31,187.81 103.73,186.57 104.15,185.49 104.57,181.49 104.99,187.56 105.41,181.46 105.83,189.66 106.25,186.51 106.67,188.53 107.09,181.32 107.51,187.98 107.93,191.60 108.35,189.01 108.77,190.86 109.19,180.87 109.62,181.48 110.04,191.50 110.46,193.17 110.88,188.14 111.30,185.15 111.72,177.00 112.14,184.12 112.56,189.65 112.98,190.94 113.40,181.75 113.82,181.27 114.24,181.49 114.66,188.39 115.08,188.86 115.50,190.05 115.92,185.43 116.34,190.50 116.76,183.47 117.18,186.86 117.60,188.70 118.02,187.79 118.45,188.03 118.87,189.01 119.29,188.33 119.71,186.66 120.13,187.41 120.55,189.05 120.97,186.96 121.39,189.23 121.81,187.77 122.23,190.20 122.65,182.63 123.07,187.21 123.49,184.72 123.91,193.83 124.33,189.36 124.75,195.38 125.17,190.48 125.59,183.87 126.01,191.50 126.43,189.58 126.85,188.65 127.27,189.04 127.70,186.66 128.12,192.95 128.54,192.60 128.96,190.37 129.38,188.41 129.80,188.03 130.22,189.97 130.64,191.42 131.06,186.17 131.48,188.77 131.90,183.99" fill="none" stroke="#efa2b5" stroke-width="0.5" stroke-opacity="1" stroke-linejoin="round"/>
<polyline points="23.00,196.49 23.42,196.44 23.84,196.42 24.26,196.54 24.68,195.38 25.10,196.17 25.52,195.38 25.94,196.12 26.36,195.96 26.78,196.05 27.20,196.05 27.63,196.26 28.05,195.69 28.47,195.79 28.89,196.14 29.31,194.99 29.73,195.45 30.15,195.74 30.57,195.75 30.99,196.18 31.41,196.11 31.83,195.49 32.25,196.56 32.67,174.96 33.09,178.45 33.51,179.25 33.93,174.98 34.35,174.65 34.77,176.06 35.19,147.67 35.61,171.21 36.03,174.97 36.45,183.28 36.88,172.23 37.30,172.71 37.72,183.27 38.14,183.01 38.56,152.16 38.98,175.00 39.40,159.43 39.82,178.40 40.24,182.29 40.66,184.38 41.08,184.44 41.50,184.19 41.92,183.08 42.34,181.83 42.76,187.71 43.18,188.80 43.60,184.02 44.02,183.68 44.44,178.81 44.86,183.62 45.28,174.89 45.71,184.39 46.13,187.11 46.55,183.39 46.97,187.86 47.39,183.92 47.81,180.72 48.23,180.70 48.65,183.90 49.07,185.00 49.49,181.95 49.91,188.71 50.33,184.72 50.75,187.54 51.17,173.81 51.59,187.96 52.01,177.77 52.43,194.25 52.85,184.42 53.27,182.95 53.69,186.50 54.11,183.90 54.53,182.21 54.96,186.06 55.38,189.88 55.80,187.51 56.22,188.49 56.64,188.39 57.06,189.24 57.48,191.39 57.90,184.97 58.32,186.15 58.74,187.31 59.16,185.81 59.58,191.84 60.00,190.16 60.42,182.00 60.84,185.95 61.26,186.96 61.68,188.48 62.10,190.52 62.52,187.65 62.94,189.28 63.36,186.02 63.78,183.98 64.21,182.86 64.63,186.17 65.05,182.55 65.47,186.76 65.89,179.20 66.31,188.05 66.73,183.69 67.15,190.17 67.57,187.78 67.99,191.99 68.41,190.14 68.83,188.68 69.25,188.15 69.67,188.05 70.09,187.53 70.51,192.87 70.93,190.87 71.35,190.19 71.77,190.52 72.19,180.81 72.61,184.05 73.04,189.61 73.46,189.31 73.88,183.88 74.30,175.71 74.72,192.98 75.14,194.36 75.56,190.37 75.98,183.31 76.40,189.73 76.82,183.50 77.24,190.84 77.66,190.01 78.08,190.29 78.50,187.75 78.92,188.40 79.34,186.95 79.76,188.03 80.18,192.47 80.60,193.36 81.02,187.35 81.44,193.68 81.86,182.77 82.29,193.24 82.71,190.70 83.13,187.29 83.55,193.88 83.97,186.83 84.39,186.57 84.81,187.45 85.23,184.67 85.65,184.65 86.07,198.64 86.49,187.26 86.91,194.74 87.33,189.88 87.75,186.86 88.17,189.20 88.59,185.07 89.01,193.45 89.43,192.08 89.85,192.08 90.27,192.48 90.69,190.39 91.12,191.49 91.54,185.67 91.96,188.71 92.38,186.00 92.80,192.03 93.22,192.64 93.64,192.70 94.06,189.84 94.48,192.69 94.90,197.68 95.32,192.73 95.74,196.97 96.16,194.72 96.58,194.28 97.00,188.93 97.42,194.61 97.84,185.09 98.26,187.60 98.68,198.33 99.10,190.73 99.52,188.39 99.94,189.93 100.37,198.05 100.79,190.46 101.21,192.61 101.63,194.10 102.05,192.88 102.47,201.88 102.89,177.61 103.31,192.02 103.73,190.78 104.15,189.70 104.57,185.68 104.99,191.75 105.41,185.63 105.83,193.83 106.25,190.68 106.67,192.68 107.09,185.47 107.51,192.12 107.93,195.74 108.35,193.13 108.77,194.98 109.19,184.98 109.62,185.58 110.04,195.59 110.46,197.26 110.88,192.21 111.30,189.22 111.72,177.00 112.14,188.17 112.56,193.70 112.98,194.98 113.40,185.78 113.82,185.29 114.24,185.50 114.66,192.40 115.08,192.86 115.50,194.05 115.92,189.41 116.34,194.48 116.76,187.44 117.18,190.82 117.60,192.65 118.02,191.74 118.45,191.97 118.87,192.94 119.29,192.25 119.71,190.57 120.13,191.32 120.55,192.95 120.97,190.85 121.39,193.11 121.81,191.64 122.23,194.06 122.65,186.49 123.07,191.06 123.49,188.56 123.91,197.66 124.33,193.19 124.75,199.20 125.17,194.29 125.59,187.67 126.01,195.29 126.43,193.36 126.85,192.43 127.27,192.82 127.70,190.42 128.12,196.71 128.54,196.34 128.96,194.11 129.38,192.14 129.80,191.76 130.22,193.69 130.64,195.13 131.06,189.87 131.48,192.46 131.90,187.67" fill="none" stroke="#efa2b5" stroke-width="0.5" stroke-opacity="1" stroke-linejoin="round"/>
<polyline points="23.00,196.49 23.42,196.44 23.84,196.42 24.26,196.54 24.68,195.38 25.10,196.17 25.52,195.38 25.94,196.12 26.36,195.96 26.78,196.05 27.20,196.05 27.63,196.26 28.05,195.69 28.47,195.79 28.89,196.14 29.31,194.99 29.73,195.45 30.15,195.74 30.57,195.75 30.99,196.18 31.41,196.11 31.83,195.49 32.25,196.56 32.67,172.77 33.09,176.26 33.51,177.06 33.93,172.79 34.35,172.45 34.77,173.86 35.19,147.67 35.61,169.00 36.03,172.76 36.45,181.06 36.88,170.01 37.30,170.48 37.72,181.04 38.14,180.77 38.56,152.16 38.98,172.76 39.40,159.43 39.82,176.15 40.24,180.04 40.66,182.13 41.08,182.18 41.50,181.93 41.92,180.81 42.34,179.56 42.76,185.43 43.18,186.52 43.60,181.74 44.02,181.40 44.44,176.52 44.86,181.32 45.28,172.59 45.71,182.09 46.13,184.81 46.55,181.09 46.97,185.55 47.39,181.60 47.81,178.40 48.23,178.38 48.65,181.58 49.07,182.66 49.49,179.61 49.91,186.37 50.33,182.38 50.75,185.20 51.17,171.46 51.59,185.60 52.01,175.41 52.43,191.89 52.85,182.05 53.27,180.58 53.69,184.12 54.11,181.53 54.53,179.83 54.96,183.68 55.38,187.49 55.80,185.12 56.22,186.10 56.64,185.99 57.06,186.83 57.48,188.98 57.90,182.56 58.32,183.73 58.74,184.90 59.16,183.38 59.58,189.41 60.00,187.74 60.42,179.58 60.84,183.54 61.26,184.55 61.68,186.07 62.10,188.11 62.52,185.25 62.94,186.88 63.36,183.62 63.78,181.59 64.21,180.46 64.63,183.78 65.05,180.16 65.47,184.38 65.89,176.82 66.31,185.68 66.73,181.32 67.15,187.80 67.57,185.41 67.99,189.62 68.41,187.78 68.83,186.32 69.25,185.79 69.67,185.70 70.09,185.17 70.51,190.52 70.93,188.53 71.35,187.85 71.77,188.18 72.19,178.48 72.61,181.71 73.04,187.28 73.46,186.98 73.88,181.56 74.30,173.38 74.72,190.66 75.14,192.04 75.56,188.05 75.98,181.00 76.40,187.42 76.82,181.20 77.24,188.53 77.66,187.71 78.08,187.99 78.50,185.46 78.92,186.11 79.34,184.66 79.76,185.74 80.18,190.19 80.60,191.08 81.02,185.08 81.44,191.41 81.86,180.50 82.29,190.97 82.71,188.44 83.13,185.02 83.55,191.62 83.97,184.57 84.39,184.31 84.81,185.20 85.23,182.42 85.65,182.40 86.07,196.39 86.49,185.02 86.91,192.50 87.33,187.64 87.75,184.62 88.17,186.97 88.59,182.85 89.01,191.22 89.43,189.85 89.85,189.86 90.27,190.26 90.69,188.18 91.12,189.28 91.54,183.46 91.96,186.51 92.38,183.80 92.80,189.83 93.22,190.45 93.64,190.51 94.06,187.65 94.48,190.50 94.90,195.49 95.32,190.54 95.74,194.79 96.16,192.55 96.58,192.10 97.00,186.76 97.42,192.45 97.84,182.93 98.26,185.44 98.68,196.18 99.10,188.58 99.52,186.24 99.94,187.79 100.37,195.91 100.79,188.32 101.21,190.48 101.63,191.98 102.05,190.76 102.47,199.77 102.89,177.61 103.31,189.91 103.73,188.68 104.15,187.59 104.57,183.59 104.99,189.65 105.41,183.55 105.83,191.74 106.25,188.59 106.67,190.60 107.09,183.40 107.51,190.05 107.93,193.67 108.35,191.07 108.77,192.92 109.19,182.93 109.62,183.53 110.04,193.54 110.46,195.22 110.88,190.17 111.30,187.18 111.72,177.00 112.14,186.14 112.56,191.68 112.98,192.96 113.40,183.77 113.82,183.28 114.24,183.50 114.66,190.40 115.08,190.86 115.50,192.05 115.92,187.42 116.34,192.49 116.76,185.45 117.18,188.84 117.60,190.67 118.02,189.76 118.45,190.00 118.87,190.97 119.29,190.29 119.71,188.62 120.13,189.36 120.55,191.00 120.97,188.90 121.39,191.17 121.81,189.71 122.23,192.13 122.65,184.56 123.07,189.13 123.49,186.64 123.91,195.75 124.33,191.27 124.75,197.29 125.17,192.38 125.59,185.77 126.01,193.40 126.43,191.47 126.85,190.54 127.27,190.93 127.70,188.54 128.12,194.83 128.54,194.47 128.96,192.24 129.38,190.28 129.80,189.89 130.22,191.83 130.64,193.27 131.06,188.02 131.48,190.61 131.90,185.83" fill="none" stroke="#dc6786" stroke-width="0.65" stroke-opacity="1" stroke-linejoin="round"/>
<text x="142.7" y="133.5" class="let">F</text>
<text x="212.95" y="126.8" class="tit">RVD-Hemopressin</text>
<line x1="158.5" y1="136.4" x2="158.5" y2="209.12" class="ax"/>
<line x1="155.9" y1="209.12" x2="158.5" y2="209.12" class="ax"/>
<text x="154.9" y="211.27" class="yt">-1</text>
<line x1="155.9" y1="197" x2="158.5" y2="197" class="ax"/>
<text x="154.9" y="199.15" class="yt">0</text>
<line x1="155.9" y1="184.88" x2="158.5" y2="184.88" class="ax"/>
<text x="154.9" y="187.03" class="yt">1</text>
<line x1="155.9" y1="172.76" x2="158.5" y2="172.76" class="ax"/>
<text x="154.9" y="174.91" class="yt">2</text>
<line x1="155.9" y1="160.64" x2="158.5" y2="160.64" class="ax"/>
<text x="154.9" y="162.79" class="yt">3</text>
<line x1="155.9" y1="148.52" x2="158.5" y2="148.52" class="ax"/>
<text x="154.9" y="150.67" class="yt">4</text>
<line x1="155.9" y1="136.4" x2="158.5" y2="136.4" class="ax"/>
<text x="154.9" y="138.55" class="yt">5</text>
<line x1="158.5" y1="197" x2="267.4" y2="197" class="ax"/>
<line x1="176.65" y1="197" x2="176.65" y2="199.2" class="ax"/>
<text x="176.65" y="206.6" class="xt">5</text>
<line x1="194.8" y1="197" x2="194.8" y2="199.2" class="ax"/>
<text x="194.8" y="206.6" class="xt">10</text>
<line x1="212.95" y1="197" x2="212.95" y2="199.2" class="ax"/>
<text x="212.95" y="206.6" class="xt">15</text>
<line x1="231.1" y1="197" x2="231.1" y2="199.2" class="ax"/>
<text x="231.1" y="206.6" class="xt">20</text>
<line x1="249.25" y1="197" x2="249.25" y2="199.2" class="ax"/>
<text x="249.25" y="206.6" class="xt">25</text>
<line x1="267.4" y1="197" x2="267.4" y2="199.2" class="ax"/>
<text x="267.4" y="206.6" class="xt">30</text>
<text x="212.95" y="215" class="xt">Time (min)</text>
<text transform="translate(145.9,172.76) rotate(-90)" class="yl">Fura Red ratio (405/488)</text>
<polyline points="158.50,196.25 158.80,196.46 159.11,195.65 159.41,196.44 159.71,196.30 160.02,196.06 160.32,196.10 160.62,196.78 160.93,197.20 161.23,197.06 161.53,196.35 161.84,196.25 162.14,196.36 162.44,196.17 162.75,195.95 163.05,196.83 163.35,195.42 163.66,195.37 163.96,196.18 164.26,196.58 164.57,196.39 164.87,197.10 165.17,196.49 165.48,196.85 165.78,196.54 166.08,196.64 166.39,195.62 166.69,196.87 166.99,196.37 167.30,196.67 167.60,195.83 167.90,196.05 168.21,197.15 168.51,196.92 168.81,196.38 169.12,196.76 169.42,196.31 169.72,196.47 170.03,196.96 170.33,196.63 170.63,196.30 170.94,196.53 171.24,196.44 171.54,196.34 171.85,196.55 172.15,195.93 172.45,197.04 172.76,196.30 173.06,196.72 173.36,196.33 173.67,196.14 173.97,196.23 174.27,196.21 174.58,196.18 174.88,196.27 175.18,196.60 175.49,196.19 175.79,196.09 176.09,196.13 176.40,196.38 176.70,196.38 177.00,197.35 177.31,196.85 177.61,196.59 177.91,196.08 178.22,195.99 178.52,196.44 178.82,196.98 179.13,196.30 179.43,196.08 179.73,196.18 180.04,196.80 180.34,196.96 180.64,196.89 180.95,196.96 181.25,196.08 181.55,196.37 181.86,195.58 182.16,195.80 182.46,196.07 182.77,196.80 183.07,196.22 183.37,196.31 183.68,197.10 183.98,197.05 184.28,196.82 184.59,195.97 184.89,196.67 185.19,197.10 185.50,196.47 185.80,196.25 186.10,197.02 186.41,195.69 186.71,196.83 187.01,196.06 187.32,196.22 187.62,196.82 187.92,196.56 188.23,196.50 188.53,196.66 188.83,196.19 189.14,196.49 189.44,197.25 189.74,196.47 190.05,197.00 190.35,196.61 190.65,196.41 190.96,196.56 191.26,196.08 191.56,196.54 191.87,196.73 192.17,195.81 192.47,196.20 192.78,196.57 193.08,196.51 193.38,196.68 193.69,196.48 193.99,196.92 194.29,195.76 194.60,195.99 194.90,197.47 195.20,196.92 195.51,196.53 195.81,196.79 196.11,197.42 196.42,196.22 196.72,197.02 197.02,196.22 197.33,196.32 197.63,195.86 197.93,196.89 198.24,195.73 198.54,197.04 198.84,195.87 199.15,196.06 199.45,196.33 199.75,196.98 200.06,195.82 200.36,196.17 200.66,197.22 200.97,197.62 201.27,196.80 201.57,196.88 201.88,196.21 202.18,196.45 202.48,196.38 202.79,196.73 203.09,196.11 203.39,196.76 203.70,197.16 204.00,197.54 204.30,196.29 204.61,196.77 204.91,197.25 205.21,196.89 205.52,196.68 205.82,196.22 206.12,197.42 206.43,196.69 206.73,196.19 207.03,196.31 207.34,196.16 207.64,195.66 207.94,196.87 208.25,196.76 208.55,196.04 208.85,195.81 209.16,196.36 209.46,196.64 209.76,196.99 210.07,196.23 210.37,196.35 210.67,196.96 210.98,196.72 211.28,196.92 211.58,196.25 211.89,196.56 212.19,195.96 212.49,195.92 212.80,196.35 213.10,195.98 213.41,196.04 213.71,195.85 214.01,196.69 214.32,196.22 214.62,195.69 214.92,196.20 215.23,196.66 215.53,196.38 215.83,195.50 216.14,196.65 216.44,196.75 216.74,196.09 217.05,196.64 217.35,197.15 217.65,197.15 217.96,196.47 218.26,196.75 218.56,195.85 218.87,196.73 219.17,197.07 219.47,196.81 219.78,197.01 220.08,195.97 220.38,196.81 220.69,195.83 220.99,196.23 221.29,195.60 221.60,196.52 221.90,196.11 222.20,197.37 222.51,196.67 222.81,196.79 223.11,195.98 223.42,196.53 223.72,196.18 224.02,196.78 224.33,197.03 224.63,196.51 224.93,195.91 225.24,196.49 225.54,195.79 225.84,196.61 226.15,196.62 226.45,196.62 226.75,196.58 227.06,196.77 227.36,196.57 227.66,196.82 227.97,196.91 228.27,195.82 228.57,196.09 228.88,196.60 229.18,196.73 229.48,197.14 229.79,196.22 230.09,196.76 230.39,195.64 230.70,197.22 231.00,196.32 231.30,195.95 231.61,196.70 231.91,195.59 232.21,196.03 232.52,196.04 232.82,196.84 233.12,196.02 233.43,196.03 233.73,196.41 234.03,195.69 234.34,196.32 234.64,197.44 234.94,196.32 235.25,195.71 235.55,196.72 235.85,196.14 236.16,196.74 236.46,196.46 236.76,197.63 237.07,197.24 237.37,196.59 237.67,196.71 237.98,197.27 238.28,196.16 238.58,196.32 238.89,196.85 239.19,197.36 239.49,196.22 239.80,196.68 240.10,196.16 240.40,195.98 240.71,196.63 241.01,196.58 241.31,196.15 241.62,196.59 241.92,197.34 242.22,196.22 242.53,196.35 242.83,196.74 243.13,196.27 243.44,196.66 243.74,196.67 244.04,196.16 244.35,197.10 244.65,197.20 244.95,196.57 245.26,197.08 245.56,196.13 245.86,196.83 246.17,197.26 246.47,196.68 246.77,197.47 247.08,195.92 247.38,196.52 247.68,196.21 247.99,196.28 248.29,196.42 248.59,196.96 248.90,196.17 249.20,196.65 249.50,196.84 249.81,197.39 250.11,195.96 250.41,196.61 250.72,196.69 251.02,197.33 251.32,196.11 251.63,196.56 251.93,196.07 252.23,196.52 252.54,196.88 252.84,196.26 253.14,197.19 253.45,197.18 253.75,196.54 254.05,196.19 254.36,196.03 254.66,196.55 254.96,196.56 255.27,196.42 255.57,196.60 255.87,196.73 256.18,196.29 256.48,196.73 256.78,196.60 257.09,195.99 257.39,196.41 257.69,196.73 258.00,196.21 258.30,196.57 258.60,196.22 258.91,196.88 259.21,196.84 259.51,197.12 259.82,196.03 260.12,195.91 260.42,196.00 260.73,196.36 261.03,196.42 261.33,196.61 261.64,196.26 261.94,196.59 262.24,196.95 262.55,196.08 262.85,196.13 263.15,196.29 263.46,196.54 263.76,196.68 264.06,196.47 264.37,196.42 264.67,197.01 264.97,196.71 265.28,196.97 265.58,196.04 265.88,197.09 266.19,197.03 266.49,196.89 266.79,196.45 267.10,196.91 267.40,195.77" fill="none" stroke="#ee5a78" stroke-width="0.95" stroke-opacity="1" stroke-linejoin="round"/>
<text x="270.9" y="133.5" class="let">G</text>
<text x="349.95" y="126.8" class="tit">SB366791</text>
<line x1="295.5" y1="136.4" x2="295.5" y2="209.12" class="ax"/>
<line x1="292.9" y1="209.12" x2="295.5" y2="209.12" class="ax"/>
<text x="291.9" y="211.27" class="yt">-1</text>
<line x1="292.9" y1="197" x2="295.5" y2="197" class="ax"/>
<text x="291.9" y="199.15" class="yt">0</text>
<line x1="292.9" y1="184.88" x2="295.5" y2="184.88" class="ax"/>
<text x="291.9" y="187.03" class="yt">1</text>
<line x1="292.9" y1="172.76" x2="295.5" y2="172.76" class="ax"/>
<text x="291.9" y="174.91" class="yt">2</text>
<line x1="292.9" y1="160.64" x2="295.5" y2="160.64" class="ax"/>
<text x="291.9" y="162.79" class="yt">3</text>
<line x1="292.9" y1="148.52" x2="295.5" y2="148.52" class="ax"/>
<text x="291.9" y="150.67" class="yt">4</text>
<line x1="292.9" y1="136.4" x2="295.5" y2="136.4" class="ax"/>
<text x="291.9" y="138.55" class="yt">5</text>
<line x1="295.5" y1="197" x2="404.4" y2="197" class="ax"/>
<line x1="331.8" y1="197" x2="331.8" y2="199.2" class="ax"/>
<text x="331.8" y="206.6" class="xt">10</text>
<line x1="368.1" y1="197" x2="368.1" y2="199.2" class="ax"/>
<text x="368.1" y="206.6" class="xt">20</text>
<line x1="404.4" y1="197" x2="404.4" y2="199.2" class="ax"/>
<text x="404.4" y="206.6" class="xt">30</text>
<text x="349.95" y="215" class="xt">Time (min)</text>
<text transform="translate(282.9,172.76) rotate(-90)" class="yl">Fura Red ratio (405/488)</text>
<polyline points="295.50,194.79 295.80,199.63 296.11,196.76 296.41,196.62 296.71,198.39 297.02,197.11 297.32,199.51 297.62,197.71 297.93,197.12 298.23,196.64 298.53,197.58 298.84,199.04 299.14,198.33 299.44,193.44 299.75,197.71 300.05,195.68 300.35,192.05 300.66,195.18 300.96,197.52 301.26,196.54 301.57,195.57 301.87,193.28 302.17,197.93 302.48,201.32 302.78,194.57 303.08,193.25 303.39,191.29 303.69,196.22 303.99,196.65 304.30,195.66 304.60,197.20 304.90,195.95 305.21,196.94 305.51,197.00 305.81,194.97 306.12,191.72 306.42,194.83 306.72,197.26 307.03,190.44 307.33,197.56 307.63,197.54 307.94,192.34 308.24,192.15 308.54,195.47 308.85,197.95 309.15,196.53 309.45,197.63 309.76,196.55 310.06,198.74 310.36,194.58 310.67,195.82 310.97,196.78 311.27,196.86 311.58,195.91 311.88,196.61 312.18,197.30 312.49,197.01 312.79,197.36 313.09,195.74 313.40,197.04 313.70,201.99 314.00,197.94 314.31,195.21 314.61,195.77 314.91,196.13 315.22,197.87 315.52,193.92 315.82,195.87 316.13,191.46 316.43,196.19 316.73,197.13 317.04,195.86 317.34,196.49 317.64,196.48 317.95,198.34 318.25,197.31 318.55,196.07 318.86,195.12 319.16,196.79 319.46,195.80 319.77,192.88 320.07,198.04 320.37,192.47 320.68,196.48 320.98,197.96 321.28,197.93 321.59,196.93 321.89,197.54 322.19,196.43 322.50,198.47 322.80,196.09 323.10,194.49 323.41,195.24 323.71,198.69 324.01,195.96 324.32,196.76 324.62,192.15 324.92,198.80 325.23,198.99 325.53,191.65 325.83,196.00 326.14,198.94 326.44,196.40 326.74,196.76 327.05,195.44 327.35,196.83 327.65,198.67 327.96,199.10 328.26,194.68 328.56,191.30 328.87,195.90 329.17,191.88 329.47,197.23 329.78,198.66 330.08,198.00 330.38,200.06 330.69,199.64 330.99,197.43 331.29,195.76 331.60,196.95 331.90,197.72 332.20,197.51 332.51,192.10 332.81,196.93 333.11,198.89 333.42,195.56 333.72,195.54 334.02,197.62 334.33,195.41 334.63,197.89 334.93,197.27 335.24,199.31 335.54,196.77 335.84,197.13 336.15,195.40 336.45,192.39 336.75,196.49 337.06,195.47 337.36,198.04 337.66,197.88 337.97,197.01 338.27,195.45 338.57,186.70 338.88,193.36 339.18,197.42 339.48,198.08 339.79,192.87 340.09,197.68 340.39,198.32 340.70,196.47 341.00,195.98 341.30,196.81 341.61,200.68 341.91,196.80 342.21,200.81 342.52,195.83 342.82,194.41 343.12,199.91 343.43,196.55 343.73,195.16 344.03,196.76 344.34,198.88 344.64,201.39 344.94,195.42 345.25,197.42 345.55,197.14 345.85,197.03 346.16,197.53 346.46,194.47 346.76,198.34 347.07,193.38 347.37,198.38 347.67,197.16 347.98,195.28 348.28,197.03 348.58,197.89 348.89,198.44 349.19,199.04 349.49,198.92 349.80,196.29 350.10,196.25 350.41,194.15 350.71,198.42 351.01,198.78 351.32,195.67 351.62,198.24 351.92,196.82 352.23,196.49 352.53,194.40 352.83,196.46 353.14,196.06 353.44,195.48 353.74,197.14 354.05,197.00 354.35,195.82 354.65,198.07 354.96,196.54 355.26,190.94 355.56,199.91 355.87,199.00 356.17,192.24 356.47,197.13 356.78,195.16 357.08,195.13 357.38,195.73 357.69,200.06 357.99,197.02 358.29,196.66 358.60,197.90 358.90,191.84 359.20,197.28 359.51,191.45 359.81,198.50 360.11,199.21 360.42,195.47 360.72,198.66 361.02,197.07 361.33,194.14 361.63,195.85 361.93,196.47 362.24,197.68 362.54,196.54 362.84,196.69 363.15,194.59 363.45,195.38 363.75,193.97 364.06,194.05 364.36,197.83 364.66,198.76 364.97,197.23 365.27,196.68 365.57,197.53 365.88,196.58 366.18,196.89 366.48,193.36 366.79,197.12 367.09,196.09 367.39,196.55 367.70,197.86 368.00,196.11 368.30,197.63 368.61,198.06 368.91,196.78 369.21,197.06 369.52,198.34 369.82,200.31 370.12,197.85 370.43,196.95 370.73,196.94 371.03,195.57 371.34,200.11 371.64,195.63 371.94,196.54 372.25,198.36 372.55,195.07 372.85,197.58 373.16,197.89 373.46,197.50 373.76,195.64 374.07,197.57 374.37,197.79 374.67,196.32 374.98,190.71 375.28,200.31 375.58,196.20 375.89,197.68 376.19,195.44 376.49,198.14 376.80,197.27 377.10,197.44 377.40,197.98 377.71,197.06 378.01,196.24 378.31,197.88 378.62,194.90 378.92,191.55 379.22,196.61 379.53,197.82 379.83,192.76 380.13,196.01 380.44,198.08 380.74,197.74 381.04,197.89 381.35,198.41 381.65,193.95 381.95,200.89 382.26,192.14 382.56,198.36 382.86,197.37 383.17,196.94 383.47,198.08 383.77,199.33 384.08,197.70 384.38,197.02 384.68,198.03 384.99,196.71 385.29,199.02 385.59,196.67 385.90,190.55 386.20,193.97 386.50,197.78 386.81,197.38 387.11,197.46 387.41,195.77 387.72,197.36 388.02,196.29 388.32,198.06 388.63,196.58 388.93,196.81 389.23,197.45 389.54,197.12 389.84,192.15 390.14,196.41 390.45,196.59 390.75,195.60 391.05,197.07 391.36,197.83 391.66,196.01 391.96,194.68 392.27,197.37 392.57,195.34 392.87,197.19 393.18,198.62 393.48,197.97 393.78,197.94 394.09,195.72 394.39,196.88 394.69,195.01 395.00,196.86 395.30,195.47 395.60,197.08 395.91,197.79 396.21,196.61 396.51,197.91 396.82,194.14 397.12,195.91 397.42,196.79 397.73,197.47 398.03,196.87 398.33,198.55 398.64,192.92 398.94,194.41 399.24,199.82 399.55,194.89 399.85,197.74 400.15,198.58 400.46,194.17 400.76,197.15 401.06,197.18 401.37,197.69 401.67,190.35 401.97,196.96 402.28,195.82 402.58,196.54 402.88,195.61 403.19,197.38 403.49,197.91 403.79,196.68 404.10,197.30 404.40,197.64" fill="none" stroke="#f5ad8e" stroke-width="0.6" stroke-opacity="1" stroke-linejoin="round"/>
<text x="415.1" y="134.1" class="let">H</text>
<line x1="455.0" y1="128.22" x2="455.0" y2="204.32" class="ax"/>
<line x1="452.4" y1="128.22" x2="455.0" y2="128.22" class="ax"/>
<text x="451.7" y="130.37" class="yt">2.0</text>
<line x1="452.4" y1="143.44" x2="455.0" y2="143.44" class="ax"/>
<text x="451.7" y="145.59" class="yt">1.5</text>
<line x1="452.4" y1="158.66" x2="455.0" y2="158.66" class="ax"/>
<text x="451.7" y="160.81" class="yt">1.0</text>
<line x1="452.4" y1="173.88" x2="455.0" y2="173.88" class="ax"/>
<text x="451.7" y="176.03" class="yt">0.5</text>
<line x1="452.4" y1="189.1" x2="455.0" y2="189.1" class="ax"/>
<text x="451.7" y="191.25" class="yt">0.0</text>
<line x1="452.4" y1="204.32" x2="455.0" y2="204.32" class="ax"/>
<text x="451.7" y="206.47" class="yt">-0.5</text>
<line x1="455.0" y1="204.32" x2="531.9" y2="204.32" class="ax"/>
<line x1="462.6" y1="204.32" x2="462.6" y2="206.62" class="ax"/>
<text transform="translate(464.2,212.62) rotate(-45)" class="hl">Untransfected</text>
<line x1="473.07" y1="204.32" x2="473.07" y2="206.62" class="ax"/>
<text transform="translate(474.67,212.62) rotate(-45)" class="hl">DMSO</text>
<line x1="483.54" y1="204.32" x2="483.54" y2="206.62" class="ax"/>
<text transform="translate(485.14,212.62) rotate(-45)" class="hl">Cap 1 µM</text>
<line x1="494.01" y1="204.32" x2="494.01" y2="206.62" class="ax"/>
<text transform="translate(495.61,212.62) rotate(-45)" class="hl">Cap 1 µM + RVD-Hp 10µM</text>
<line x1="504.48" y1="204.32" x2="504.48" y2="206.62" class="ax"/>
<text transform="translate(506.08,212.62) rotate(-45)" class="hl">Cap 1 µM - SB366791 10µM</text>
<line x1="514.95" y1="204.32" x2="514.95" y2="206.62" class="ax"/>
<text transform="translate(516.55,212.62) rotate(-45)" class="hl">RVD-Hp 10 µM</text>
<line x1="525.42" y1="204.32" x2="525.42" y2="206.62" class="ax"/>
<text transform="translate(527.02,212.62) rotate(-45)" class="hl">SB366791 10 µM</text>
<line x1="455.0" y1="189.1" x2="531.9" y2="189.1" stroke="#555" stroke-width="0.6"/>
<rect x="458.9" y="188.49" width="7.4" height="0.61" fill="#ffffff" stroke="#333" stroke-width="0.35"/>
<line x1="462.6" y1="188.49" x2="462.6" y2="188.19" stroke="#555" stroke-width="0.5"/>
<line x1="460.8" y1="188.19" x2="464.4" y2="188.19" stroke="#555" stroke-width="0.5"/>
<rect x="469.37" y="188.8" width="7.4" height="0.4" fill="#ffffff" stroke="#333" stroke-width="0.35"/>
<line x1="473.07" y1="188.8" x2="473.07" y2="188.64" stroke="#555" stroke-width="0.5"/>
<line x1="471.27" y1="188.64" x2="474.87" y2="188.64" stroke="#555" stroke-width="0.5"/>
<rect x="479.84" y="137.35" width="7.4" height="51.75" fill="#1a4b96" stroke="#333" stroke-width="0.35"/>
<line x1="483.54" y1="137.35" x2="483.54" y2="132.79" stroke="#555" stroke-width="0.5"/>
<line x1="481.74" y1="132.79" x2="485.34" y2="132.79" stroke="#555" stroke-width="0.5"/>
<rect x="490.31" y="168.1" width="7.4" height="21" fill="#7d6a9d" stroke="#333" stroke-width="0.35"/>
<line x1="494.01" y1="168.1" x2="494.01" y2="165.05" stroke="#555" stroke-width="0.5"/>
<line x1="492.21" y1="165.05" x2="495.81" y2="165.05" stroke="#555" stroke-width="0.5"/>
<rect x="500.78" y="171.14" width="7.4" height="17.96" fill="#ea7f98" stroke="#333" stroke-width="0.35"/>
<line x1="504.48" y1="171.14" x2="504.48" y2="165.36" stroke="#555" stroke-width="0.5"/>
<line x1="502.68" y1="165.36" x2="506.28" y2="165.36" stroke="#555" stroke-width="0.5"/>
<rect x="511.25" y="189.1" width="7.4" height="0.91" fill="#c8324e" stroke="#333" stroke-width="0.35"/>
<line x1="514.95" y1="190.01" x2="514.95" y2="190.62" stroke="#555" stroke-width="0.5"/>
<line x1="513.15" y1="190.62" x2="516.75" y2="190.62" stroke="#555" stroke-width="0.5"/>
<rect x="521.72" y="189.1" width="7.4" height="4.87" fill="#f8bd9e" stroke="#333" stroke-width="0.35"/>
<line x1="525.42" y1="193.97" x2="525.42" y2="196.71" stroke="#555" stroke-width="0.5"/>
<line x1="523.62" y1="196.71" x2="527.22" y2="196.71" stroke="#555" stroke-width="0.5"/>
<text x="483.54" y="132.6" text-anchor="middle" font-size="6.2" fill="#222" stroke="#222" stroke-width="0.12">****</text>
<text x="494.01" y="165" text-anchor="middle" font-size="5.5" fill="#222" stroke="#222" stroke-width="0.12">**</text>
<text x="494.01" y="159.6" text-anchor="middle" font-size="4.3" fill="#222" stroke="#222" stroke-width="0.12">&amp;</text>
<text x="504.48" y="163.6" text-anchor="middle" font-size="4.3" fill="#222" stroke="#222" stroke-width="0.12">&amp;</text>
<text x="514.55" y="174.4" text-anchor="middle" font-size="4.6" fill="#222" stroke="#222" stroke-width="0.12">##</text>
<text x="525.92" y="174.4" text-anchor="middle" font-size="4.3" fill="#222" stroke="#222" stroke-width="0.12">###</text>
<text x="514.55" y="180.2" text-anchor="middle" font-size="4.2" fill="#222" stroke="#222" stroke-width="0.12">$$$$</text>
<text x="525.42" y="180.2" text-anchor="middle" font-size="4.2" fill="#222" stroke="#222" stroke-width="0.12">$$$$</text>
<text x="514.55" y="185.6" text-anchor="middle" font-size="3.9" fill="#222" stroke="#222" stroke-width="0.12">&amp;&amp;&amp;&amp;</text>
<text x="526.92" y="185.6" text-anchor="middle" font-size="3.9" fill="#222" stroke="#222" stroke-width="0.12">&amp;&amp;&amp;&amp;</text>
<text transform="translate(438.2,166.2) rotate(-90)" style="font-size:6px" class="yl">Fura Red ratio amplitude (405/488, a.u.)</text>
</svg>
</body></html>
